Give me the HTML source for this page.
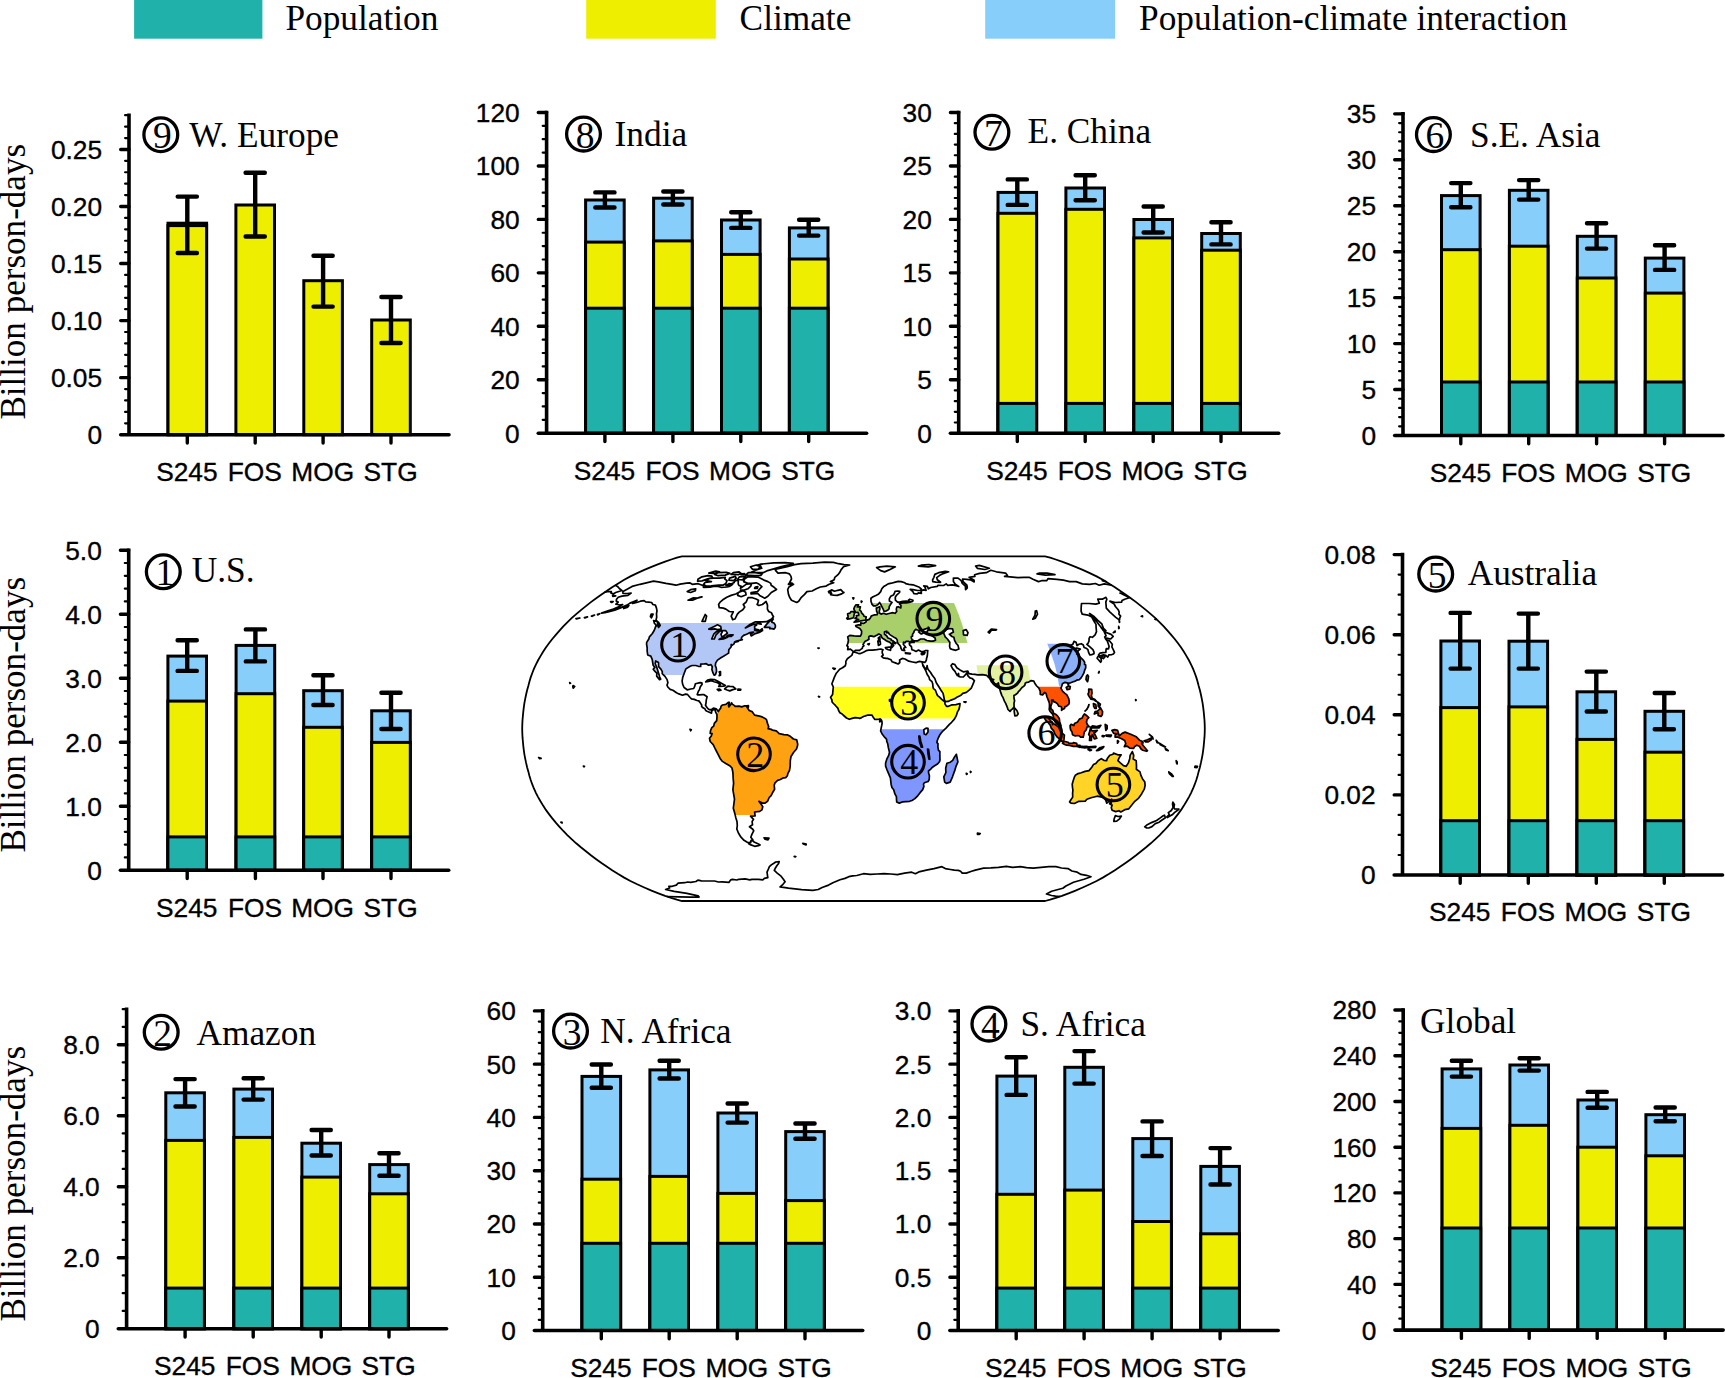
<!DOCTYPE html>
<html lang="en"><head><meta charset="utf-8"><title>Figure</title>
<style>
html,body{margin:0;padding:0;background:#fff}
svg{display:block}
.tk{font-family:"Liberation Sans", Arial, Helvetica, sans-serif;font-size:26.3px;fill:#000;stroke:#000;stroke-width:0.35px}
.tt{font-family:"Liberation Serif", "Times New Roman", Times, serif;font-size:35.3px;fill:#000}
.dg{font-family:"Liberation Serif", "Times New Roman", Times, serif;font-size:37.5px;fill:#000}
.md{font-family:"Liberation Serif", "Times New Roman", Times, serif;font-size:36px;fill:#000}
.lg{font-family:"Liberation Serif", "Times New Roman", Times, serif;font-size:35.3px;fill:#000}
.yl{font-family:"Liberation Serif", "Times New Roman", Times, serif;font-size:35.1px;fill:#000}
</style></head><body>
<svg width="1725" height="1378" viewBox="0 0 1725 1378">
<rect width="1725" height="1378" fill="#fff"/>
<rect x="134.1" y="0" width="128.3" height="38.7" fill="#20B2AA"/>
<rect x="586.2" y="0" width="129.6" height="38.7" fill="#EEEE00"/>
<rect x="985.2" y="0" width="129.9" height="38.7" fill="#87CEFA"/>
<text x="285.4" y="30.1" class="lg">Population</text>
<text x="739.6" y="30.1" class="lg">Climate</text>
<text x="1139.0" y="30.1" class="lg">Population-climate interaction</text>
<text transform="translate(25.4 419.6) rotate(-90)" class="yl">Billion person-days</text>
<text transform="translate(25.4 852.6) rotate(-90)" class="yl">Billion person-days</text>
<text transform="translate(25.4 1321.6) rotate(-90)" class="yl">Billion person-days</text>
<rect x="168" y="223.2" width="38.6" height="211.5" fill="#87CEFA" stroke="#000" stroke-width="3.0"/>
<rect x="168" y="225.6" width="38.6" height="209.1" fill="#EEEE00" stroke="#000" stroke-width="3.0"/>
<rect x="235.9" y="205" width="38.6" height="229.7" fill="#EEEE00" stroke="#000" stroke-width="3.0"/>
<rect x="303.8" y="280.7" width="38.6" height="154" fill="#EEEE00" stroke="#000" stroke-width="3.0"/>
<rect x="371.7" y="320" width="38.6" height="114.7" fill="#EEEE00" stroke="#000" stroke-width="3.0"/>
<path d="M187.3 196.6V253M177.7 196.6H196.9M177.7 253H196.9M255.2 172.8V236.5M245.6 172.8H264.8M245.6 236.5H264.8M323.1 255.8V306.6M313.5 255.8H332.7M313.5 306.6H332.7M391 297V343M381.4 297H400.6M381.4 343H400.6" fill="none" stroke="#000" stroke-width="4.4" stroke-linecap="round"/>
<path d="M129 113.42V434.7" stroke="#000" stroke-width="3.6" fill="none" stroke-linecap="butt"/>
<path d="M120.7 434.7H449" stroke="#000" stroke-width="3.6" fill="none" stroke-linecap="round"/>
<path d="M120.7 377.65H129M120.7 320.6H129M120.7 263.55H129M120.7 206.5H129M120.7 149.45H129" stroke="#000" stroke-width="3.4" fill="none" stroke-linecap="round"/>
<path d="M125.1 423.29H129M125.1 411.88H129M125.1 400.47H129M125.1 389.06H129M125.1 366.24H129M125.1 354.83H129M125.1 343.42H129M125.1 332.01H129M125.1 309.19H129M125.1 297.78H129M125.1 286.37H129M125.1 274.96H129M125.1 252.14H129M125.1 240.73H129M125.1 229.32H129M125.1 217.91H129M125.1 195.09H129M125.1 183.68H129M125.1 172.27H129M125.1 160.86H129M125.1 138.04H129M125.1 126.63H129M125.1 115.22H129" stroke="#000" stroke-width="2.2" fill="none" stroke-linecap="round"/>
<path d="M187.3 434.7V443M255.2 434.7V443M323.1 434.7V443M391 434.7V443" stroke="#000" stroke-width="3.4" fill="none" stroke-linecap="round"/>
<text x="102.1" y="444.1" text-anchor="end" class="tk">0</text>
<text x="102.1" y="387.05" text-anchor="end" class="tk">0.05</text>
<text x="102.1" y="330" text-anchor="end" class="tk">0.10</text>
<text x="102.1" y="272.95" text-anchor="end" class="tk">0.15</text>
<text x="102.1" y="215.9" text-anchor="end" class="tk">0.20</text>
<text x="102.1" y="158.85" text-anchor="end" class="tk">0.25</text>
<text x="186.9" y="481.1" text-anchor="middle" class="tk">S245</text>
<text x="254.8" y="481.1" text-anchor="middle" class="tk">FOS</text>
<text x="322.7" y="481.1" text-anchor="middle" class="tk">MOG</text>
<text x="390.6" y="481.1" text-anchor="middle" class="tk">STG</text>
<circle cx="160.8" cy="134.7" r="16.9" fill="none" stroke="#000" stroke-width="3.3"/>
<text x="162.3" y="148.1" text-anchor="middle" class="dg">9</text>
<text x="189.3" y="147.1" class="tt">W. Europe</text>
<rect x="585.6" y="200" width="38.6" height="233.2" fill="#87CEFA" stroke="#000" stroke-width="3.0"/>
<rect x="585.6" y="242.1" width="38.6" height="191.1" fill="#EEEE00" stroke="#000" stroke-width="3.0"/>
<rect x="585.6" y="308.2" width="38.6" height="125" fill="#20B2AA" stroke="#000" stroke-width="3.0"/>
<rect x="653.6" y="198.2" width="38.6" height="235" fill="#87CEFA" stroke="#000" stroke-width="3.0"/>
<rect x="653.6" y="240.9" width="38.6" height="192.3" fill="#EEEE00" stroke="#000" stroke-width="3.0"/>
<rect x="653.6" y="308.2" width="38.6" height="125" fill="#20B2AA" stroke="#000" stroke-width="3.0"/>
<rect x="721.5" y="220" width="38.6" height="213.2" fill="#87CEFA" stroke="#000" stroke-width="3.0"/>
<rect x="721.5" y="254.4" width="38.6" height="178.8" fill="#EEEE00" stroke="#000" stroke-width="3.0"/>
<rect x="721.5" y="308.2" width="38.6" height="125" fill="#20B2AA" stroke="#000" stroke-width="3.0"/>
<rect x="789.4" y="227.9" width="38.6" height="205.3" fill="#87CEFA" stroke="#000" stroke-width="3.0"/>
<rect x="789.4" y="259" width="38.6" height="174.2" fill="#EEEE00" stroke="#000" stroke-width="3.0"/>
<rect x="789.4" y="308.2" width="38.6" height="125" fill="#20B2AA" stroke="#000" stroke-width="3.0"/>
<path d="M604.9 192.4V207.5M595.3 192.4H614.5M595.3 207.5H614.5M672.9 191.5V204.5M663.3 191.5H682.5M663.3 204.5H682.5M740.8 212.3V227.9M731.2 212.3H750.4M731.2 227.9H750.4M808.7 219.8V235.6M799.1 219.8H818.3M799.1 235.6H818.3" fill="none" stroke="#000" stroke-width="4.4" stroke-linecap="round"/>
<path d="M546.6 110.7V433.2" stroke="#000" stroke-width="3.6" fill="none" stroke-linecap="butt"/>
<path d="M538.3 433.2H866.6" stroke="#000" stroke-width="3.6" fill="none" stroke-linecap="round"/>
<path d="M538.3 379.75H546.6M538.3 326.3H546.6M538.3 272.85H546.6M538.3 219.4H546.6M538.3 165.95H546.6M538.3 112.5H546.6" stroke="#000" stroke-width="3.4" fill="none" stroke-linecap="round"/>
<path d="M542.7 419.84H546.6M542.7 406.47H546.6M542.7 393.11H546.6M542.7 366.39H546.6M542.7 353.02H546.6M542.7 339.66H546.6M542.7 312.94H546.6M542.7 299.57H546.6M542.7 286.21H546.6M542.7 259.49H546.6M542.7 246.12H546.6M542.7 232.76H546.6M542.7 206.04H546.6M542.7 192.67H546.6M542.7 179.31H546.6M542.7 152.59H546.6M542.7 139.22H546.6M542.7 125.86H546.6" stroke="#000" stroke-width="2.2" fill="none" stroke-linecap="round"/>
<path d="M604.9 433.2V441.5M672.9 433.2V441.5M740.8 433.2V441.5M808.7 433.2V441.5" stroke="#000" stroke-width="3.4" fill="none" stroke-linecap="round"/>
<text x="519.7" y="442.6" text-anchor="end" class="tk">0</text>
<text x="519.7" y="389.15" text-anchor="end" class="tk">20</text>
<text x="519.7" y="335.7" text-anchor="end" class="tk">40</text>
<text x="519.7" y="282.25" text-anchor="end" class="tk">60</text>
<text x="519.7" y="228.8" text-anchor="end" class="tk">80</text>
<text x="519.7" y="175.35" text-anchor="end" class="tk">100</text>
<text x="519.7" y="121.9" text-anchor="end" class="tk">120</text>
<text x="604.5" y="479.6" text-anchor="middle" class="tk">S245</text>
<text x="672.5" y="479.6" text-anchor="middle" class="tk">FOS</text>
<text x="740.4" y="479.6" text-anchor="middle" class="tk">MOG</text>
<text x="808.3" y="479.6" text-anchor="middle" class="tk">STG</text>
<circle cx="583.5" cy="134.1" r="16.9" fill="none" stroke="#000" stroke-width="3.3"/>
<text x="585" y="147.5" text-anchor="middle" class="dg">8</text>
<text x="614.6" y="145.7" class="tt">India</text>
<rect x="998" y="192.4" width="38.6" height="240.8" fill="#87CEFA" stroke="#000" stroke-width="3.0"/>
<rect x="998" y="213.3" width="38.6" height="219.9" fill="#EEEE00" stroke="#000" stroke-width="3.0"/>
<rect x="998" y="403.4" width="38.6" height="29.8" fill="#20B2AA" stroke="#000" stroke-width="3.0"/>
<rect x="1065.9" y="188" width="38.6" height="245.2" fill="#87CEFA" stroke="#000" stroke-width="3.0"/>
<rect x="1065.9" y="209.3" width="38.6" height="223.9" fill="#EEEE00" stroke="#000" stroke-width="3.0"/>
<rect x="1065.9" y="403.4" width="38.6" height="29.8" fill="#20B2AA" stroke="#000" stroke-width="3.0"/>
<rect x="1133.9" y="219.5" width="38.6" height="213.7" fill="#87CEFA" stroke="#000" stroke-width="3.0"/>
<rect x="1133.9" y="237.9" width="38.6" height="195.3" fill="#EEEE00" stroke="#000" stroke-width="3.0"/>
<rect x="1133.9" y="403.4" width="38.6" height="29.8" fill="#20B2AA" stroke="#000" stroke-width="3.0"/>
<rect x="1201.7" y="233.5" width="38.6" height="199.7" fill="#87CEFA" stroke="#000" stroke-width="3.0"/>
<rect x="1201.7" y="250.2" width="38.6" height="183" fill="#EEEE00" stroke="#000" stroke-width="3.0"/>
<rect x="1201.7" y="403.4" width="38.6" height="29.8" fill="#20B2AA" stroke="#000" stroke-width="3.0"/>
<path d="M1017.3 179.4V204.9M1007.7 179.4H1026.9M1007.7 204.9H1026.9M1085.2 175.2V200.3M1075.6 175.2H1094.8M1075.6 200.3H1094.8M1153.2 206.5V232.5M1143.6 206.5H1162.8M1143.6 232.5H1162.8M1221 222.3V244.4M1211.4 222.3H1230.6M1211.4 244.4H1230.6" fill="none" stroke="#000" stroke-width="4.4" stroke-linecap="round"/>
<path d="M958.7 110.7V433.2" stroke="#000" stroke-width="3.6" fill="none" stroke-linecap="butt"/>
<path d="M950.4 433.2H1278.7" stroke="#000" stroke-width="3.6" fill="none" stroke-linecap="round"/>
<path d="M950.4 379.75H958.7M950.4 326.3H958.7M950.4 272.85H958.7M950.4 219.4H958.7M950.4 165.95H958.7M950.4 112.5H958.7" stroke="#000" stroke-width="3.4" fill="none" stroke-linecap="round"/>
<path d="M954.8 422.51H958.7M954.8 411.82H958.7M954.8 401.13H958.7M954.8 390.44H958.7M954.8 369.06H958.7M954.8 358.37H958.7M954.8 347.68H958.7M954.8 336.99H958.7M954.8 315.61H958.7M954.8 304.92H958.7M954.8 294.23H958.7M954.8 283.54H958.7M954.8 262.16H958.7M954.8 251.47H958.7M954.8 240.78H958.7M954.8 230.09H958.7M954.8 208.71H958.7M954.8 198.02H958.7M954.8 187.33H958.7M954.8 176.64H958.7M954.8 155.26H958.7M954.8 144.57H958.7M954.8 133.88H958.7M954.8 123.19H958.7" stroke="#000" stroke-width="2.2" fill="none" stroke-linecap="round"/>
<path d="M1017.3 433.2V441.5M1085.2 433.2V441.5M1153.2 433.2V441.5M1221 433.2V441.5" stroke="#000" stroke-width="3.4" fill="none" stroke-linecap="round"/>
<text x="931.8" y="442.6" text-anchor="end" class="tk">0</text>
<text x="931.8" y="389.15" text-anchor="end" class="tk">5</text>
<text x="931.8" y="335.7" text-anchor="end" class="tk">10</text>
<text x="931.8" y="282.25" text-anchor="end" class="tk">15</text>
<text x="931.8" y="228.8" text-anchor="end" class="tk">20</text>
<text x="931.8" y="175.35" text-anchor="end" class="tk">25</text>
<text x="931.8" y="121.9" text-anchor="end" class="tk">30</text>
<text x="1016.9" y="479.6" text-anchor="middle" class="tk">S245</text>
<text x="1084.8" y="479.6" text-anchor="middle" class="tk">FOS</text>
<text x="1152.8" y="479.6" text-anchor="middle" class="tk">MOG</text>
<text x="1220.6" y="479.6" text-anchor="middle" class="tk">STG</text>
<circle cx="991.9" cy="132.3" r="16.9" fill="none" stroke="#000" stroke-width="3.3"/>
<text x="993.4" y="145.7" text-anchor="middle" class="dg">7</text>
<text x="1027.6" y="142.9" class="tt">E. China</text>
<rect x="1441.5" y="195.6" width="38.6" height="239.9" fill="#87CEFA" stroke="#000" stroke-width="3.0"/>
<rect x="1441.5" y="249.7" width="38.6" height="185.8" fill="#EEEE00" stroke="#000" stroke-width="3.0"/>
<rect x="1441.5" y="382" width="38.6" height="53.5" fill="#20B2AA" stroke="#000" stroke-width="3.0"/>
<rect x="1509.4" y="190.3" width="38.6" height="245.2" fill="#87CEFA" stroke="#000" stroke-width="3.0"/>
<rect x="1509.4" y="246.2" width="38.6" height="189.3" fill="#EEEE00" stroke="#000" stroke-width="3.0"/>
<rect x="1509.4" y="382" width="38.6" height="53.5" fill="#20B2AA" stroke="#000" stroke-width="3.0"/>
<rect x="1577.3" y="236.3" width="38.6" height="199.2" fill="#87CEFA" stroke="#000" stroke-width="3.0"/>
<rect x="1577.3" y="278" width="38.6" height="157.5" fill="#EEEE00" stroke="#000" stroke-width="3.0"/>
<rect x="1577.3" y="382" width="38.6" height="53.5" fill="#20B2AA" stroke="#000" stroke-width="3.0"/>
<rect x="1645.3" y="258.1" width="38.6" height="177.4" fill="#87CEFA" stroke="#000" stroke-width="3.0"/>
<rect x="1645.3" y="293.1" width="38.6" height="142.4" fill="#EEEE00" stroke="#000" stroke-width="3.0"/>
<rect x="1645.3" y="382" width="38.6" height="53.5" fill="#20B2AA" stroke="#000" stroke-width="3.0"/>
<path d="M1460.8 183.1V207.2M1451.2 183.1H1470.4M1451.2 207.2H1470.4M1528.7 180.1V199.6M1519.1 180.1H1538.3M1519.1 199.6H1538.3M1596.6 223.3V248.6M1587 223.3H1606.2M1587 248.6H1606.2M1664.6 245.3V269.9M1655 245.3H1674.2M1655 269.9H1674.2" fill="none" stroke="#000" stroke-width="4.4" stroke-linecap="round"/>
<path d="M1403 112.05V435.5" stroke="#000" stroke-width="3.6" fill="none" stroke-linecap="butt"/>
<path d="M1394.7 435.5H1723" stroke="#000" stroke-width="3.6" fill="none" stroke-linecap="round"/>
<path d="M1394.7 389.55H1403M1394.7 343.6H1403M1394.7 297.65H1403M1394.7 251.7H1403M1394.7 205.75H1403M1394.7 159.8H1403M1394.7 113.85H1403" stroke="#000" stroke-width="3.4" fill="none" stroke-linecap="round"/>
<path d="M1399.1 426.31H1403M1399.1 417.12H1403M1399.1 407.93H1403M1399.1 398.74H1403M1399.1 380.36H1403M1399.1 371.17H1403M1399.1 361.98H1403M1399.1 352.79H1403M1399.1 334.41H1403M1399.1 325.22H1403M1399.1 316.03H1403M1399.1 306.84H1403M1399.1 288.46H1403M1399.1 279.27H1403M1399.1 270.08H1403M1399.1 260.89H1403M1399.1 242.51H1403M1399.1 233.32H1403M1399.1 224.13H1403M1399.1 214.94H1403M1399.1 196.56H1403M1399.1 187.37H1403M1399.1 178.18H1403M1399.1 168.99H1403M1399.1 150.61H1403M1399.1 141.42H1403M1399.1 132.23H1403M1399.1 123.04H1403" stroke="#000" stroke-width="2.2" fill="none" stroke-linecap="round"/>
<path d="M1460.8 435.5V443.8M1528.7 435.5V443.8M1596.6 435.5V443.8M1664.6 435.5V443.8" stroke="#000" stroke-width="3.4" fill="none" stroke-linecap="round"/>
<text x="1376.1" y="444.9" text-anchor="end" class="tk">0</text>
<text x="1376.1" y="398.95" text-anchor="end" class="tk">5</text>
<text x="1376.1" y="353" text-anchor="end" class="tk">10</text>
<text x="1376.1" y="307.05" text-anchor="end" class="tk">15</text>
<text x="1376.1" y="261.1" text-anchor="end" class="tk">20</text>
<text x="1376.1" y="215.15" text-anchor="end" class="tk">25</text>
<text x="1376.1" y="169.2" text-anchor="end" class="tk">30</text>
<text x="1376.1" y="123.25" text-anchor="end" class="tk">35</text>
<text x="1460.4" y="481.9" text-anchor="middle" class="tk">S245</text>
<text x="1528.3" y="481.9" text-anchor="middle" class="tk">FOS</text>
<text x="1596.2" y="481.9" text-anchor="middle" class="tk">MOG</text>
<text x="1664.2" y="481.9" text-anchor="middle" class="tk">STG</text>
<circle cx="1433.4" cy="134.6" r="16.9" fill="none" stroke="#000" stroke-width="3.3"/>
<text x="1434.9" y="148" text-anchor="middle" class="dg">6</text>
<text x="1470.1" y="147.3" class="tt">S.E. Asia</text>
<rect x="167.9" y="656.1" width="38.6" height="214.1" fill="#87CEFA" stroke="#000" stroke-width="3.0"/>
<rect x="167.9" y="701.1" width="38.6" height="169.1" fill="#EEEE00" stroke="#000" stroke-width="3.0"/>
<rect x="167.9" y="836.9" width="38.6" height="33.3" fill="#20B2AA" stroke="#000" stroke-width="3.0"/>
<rect x="236.1" y="645.4" width="38.6" height="224.8" fill="#87CEFA" stroke="#000" stroke-width="3.0"/>
<rect x="236.1" y="693.7" width="38.6" height="176.5" fill="#EEEE00" stroke="#000" stroke-width="3.0"/>
<rect x="236.1" y="836.9" width="38.6" height="33.3" fill="#20B2AA" stroke="#000" stroke-width="3.0"/>
<rect x="303.7" y="690.7" width="38.6" height="179.5" fill="#87CEFA" stroke="#000" stroke-width="3.0"/>
<rect x="303.7" y="727.3" width="38.6" height="142.9" fill="#EEEE00" stroke="#000" stroke-width="3.0"/>
<rect x="303.7" y="836.9" width="38.6" height="33.3" fill="#20B2AA" stroke="#000" stroke-width="3.0"/>
<rect x="371.7" y="710.8" width="38.6" height="159.4" fill="#87CEFA" stroke="#000" stroke-width="3.0"/>
<rect x="371.7" y="742.4" width="38.6" height="127.8" fill="#EEEE00" stroke="#000" stroke-width="3.0"/>
<rect x="371.7" y="836.9" width="38.6" height="33.3" fill="#20B2AA" stroke="#000" stroke-width="3.0"/>
<path d="M187.2 640.3V670.9M177.6 640.3H196.8M177.6 670.9H196.8M255.4 629.4V661.4M245.8 629.4H265M245.8 661.4H265M323 675.3V705M313.4 675.3H332.6M313.4 705H332.6M391 692.7V729M381.4 692.7H400.6M381.4 729H400.6" fill="none" stroke="#000" stroke-width="4.4" stroke-linecap="round"/>
<path d="M128.7 548.4V870.2" stroke="#000" stroke-width="3.6" fill="none" stroke-linecap="butt"/>
<path d="M120.4 870.2H448.7" stroke="#000" stroke-width="3.6" fill="none" stroke-linecap="round"/>
<path d="M120.4 806.2H128.7M120.4 742.2H128.7M120.4 678.2H128.7M120.4 614.2H128.7M120.4 550.2H128.7" stroke="#000" stroke-width="3.4" fill="none" stroke-linecap="round"/>
<path d="M124.8 857.4H128.7M124.8 844.6H128.7M124.8 831.8H128.7M124.8 819H128.7M124.8 793.4H128.7M124.8 780.6H128.7M124.8 767.8H128.7M124.8 755H128.7M124.8 729.4H128.7M124.8 716.6H128.7M124.8 703.8H128.7M124.8 691H128.7M124.8 665.4H128.7M124.8 652.6H128.7M124.8 639.8H128.7M124.8 627H128.7M124.8 601.4H128.7M124.8 588.6H128.7M124.8 575.8H128.7M124.8 563H128.7" stroke="#000" stroke-width="2.2" fill="none" stroke-linecap="round"/>
<path d="M187.2 870.2V878.5M255.4 870.2V878.5M323 870.2V878.5M391 870.2V878.5" stroke="#000" stroke-width="3.4" fill="none" stroke-linecap="round"/>
<text x="101.8" y="879.6" text-anchor="end" class="tk">0</text>
<text x="101.8" y="815.6" text-anchor="end" class="tk">1.0</text>
<text x="101.8" y="751.6" text-anchor="end" class="tk">2.0</text>
<text x="101.8" y="687.6" text-anchor="end" class="tk">3.0</text>
<text x="101.8" y="623.6" text-anchor="end" class="tk">4.0</text>
<text x="101.8" y="559.6" text-anchor="end" class="tk">5.0</text>
<text x="186.8" y="916.6" text-anchor="middle" class="tk">S245</text>
<text x="255" y="916.6" text-anchor="middle" class="tk">FOS</text>
<text x="322.6" y="916.6" text-anchor="middle" class="tk">MOG</text>
<text x="390.6" y="916.6" text-anchor="middle" class="tk">STG</text>
<circle cx="163.3" cy="571.8" r="16.9" fill="none" stroke="#000" stroke-width="3.3"/>
<text x="164.8" y="585.2" text-anchor="middle" class="dg">1</text>
<text x="191.8" y="581.5" class="tt">U.S.</text>
<rect x="1440.9" y="641" width="38.6" height="234" fill="#87CEFA" stroke="#000" stroke-width="3.0"/>
<rect x="1440.9" y="707.6" width="38.6" height="167.4" fill="#EEEE00" stroke="#000" stroke-width="3.0"/>
<rect x="1440.9" y="820.7" width="38.6" height="54.3" fill="#20B2AA" stroke="#000" stroke-width="3.0"/>
<rect x="1509" y="641.2" width="38.6" height="233.8" fill="#87CEFA" stroke="#000" stroke-width="3.0"/>
<rect x="1509" y="706.9" width="38.6" height="168.1" fill="#EEEE00" stroke="#000" stroke-width="3.0"/>
<rect x="1509" y="820.7" width="38.6" height="54.3" fill="#20B2AA" stroke="#000" stroke-width="3.0"/>
<rect x="1577" y="691.8" width="38.6" height="183.2" fill="#87CEFA" stroke="#000" stroke-width="3.0"/>
<rect x="1577" y="739.4" width="38.6" height="135.6" fill="#EEEE00" stroke="#000" stroke-width="3.0"/>
<rect x="1577" y="820.7" width="38.6" height="54.3" fill="#20B2AA" stroke="#000" stroke-width="3.0"/>
<rect x="1645" y="711.3" width="38.6" height="163.7" fill="#87CEFA" stroke="#000" stroke-width="3.0"/>
<rect x="1645" y="752.2" width="38.6" height="122.8" fill="#EEEE00" stroke="#000" stroke-width="3.0"/>
<rect x="1645" y="820.7" width="38.6" height="54.3" fill="#20B2AA" stroke="#000" stroke-width="3.0"/>
<path d="M1460.2 612.9V668.6M1450.6 612.9H1469.8M1450.6 668.6H1469.8M1528.3 613.6V668.6M1518.7 613.6H1537.9M1518.7 668.6H1537.9M1596.3 671.6V711.5M1586.7 671.6H1605.9M1586.7 711.5H1605.9M1664.3 693V729.2M1654.7 693H1673.9M1654.7 729.2H1673.9" fill="none" stroke="#000" stroke-width="4.4" stroke-linecap="round"/>
<path d="M1402.5 552.8V875" stroke="#000" stroke-width="3.6" fill="none" stroke-linecap="butt"/>
<path d="M1394.2 875H1722.5" stroke="#000" stroke-width="3.6" fill="none" stroke-linecap="round"/>
<path d="M1394.2 794.9H1402.5M1394.2 714.8H1402.5M1394.2 634.7H1402.5M1394.2 554.6H1402.5" stroke="#000" stroke-width="3.4" fill="none" stroke-linecap="round"/>
<path d="M1398.6 854.98H1402.5M1398.6 834.95H1402.5M1398.6 814.92H1402.5M1398.6 774.88H1402.5M1398.6 754.85H1402.5M1398.6 734.83H1402.5M1398.6 694.77H1402.5M1398.6 674.75H1402.5M1398.6 654.73H1402.5M1398.6 614.67H1402.5M1398.6 594.65H1402.5M1398.6 574.62H1402.5" stroke="#000" stroke-width="2.2" fill="none" stroke-linecap="round"/>
<path d="M1460.2 875V883.3M1528.3 875V883.3M1596.3 875V883.3M1664.3 875V883.3" stroke="#000" stroke-width="3.4" fill="none" stroke-linecap="round"/>
<text x="1375.6" y="884.4" text-anchor="end" class="tk">0</text>
<text x="1375.6" y="804.3" text-anchor="end" class="tk">0.02</text>
<text x="1375.6" y="724.2" text-anchor="end" class="tk">0.04</text>
<text x="1375.6" y="644.1" text-anchor="end" class="tk">0.06</text>
<text x="1375.6" y="564" text-anchor="end" class="tk">0.08</text>
<text x="1459.8" y="921.4" text-anchor="middle" class="tk">S245</text>
<text x="1527.9" y="921.4" text-anchor="middle" class="tk">FOS</text>
<text x="1595.9" y="921.4" text-anchor="middle" class="tk">MOG</text>
<text x="1663.9" y="921.4" text-anchor="middle" class="tk">STG</text>
<circle cx="1435.7" cy="574.1" r="16.9" fill="none" stroke="#000" stroke-width="3.3"/>
<text x="1437.2" y="587.5" text-anchor="middle" class="dg">5</text>
<text x="1467.7" y="584.6" class="tt">Australia</text>
<rect x="165.8" y="1092.8" width="38.6" height="235.9" fill="#87CEFA" stroke="#000" stroke-width="3.0"/>
<rect x="165.8" y="1140.4" width="38.6" height="188.3" fill="#EEEE00" stroke="#000" stroke-width="3.0"/>
<rect x="165.8" y="1288.1" width="38.6" height="40.6" fill="#20B2AA" stroke="#000" stroke-width="3.0"/>
<rect x="233.9" y="1089.1" width="38.6" height="239.6" fill="#87CEFA" stroke="#000" stroke-width="3.0"/>
<rect x="233.9" y="1137.4" width="38.6" height="191.3" fill="#EEEE00" stroke="#000" stroke-width="3.0"/>
<rect x="233.9" y="1288.1" width="38.6" height="40.6" fill="#20B2AA" stroke="#000" stroke-width="3.0"/>
<rect x="301.9" y="1143.2" width="38.6" height="185.5" fill="#87CEFA" stroke="#000" stroke-width="3.0"/>
<rect x="301.9" y="1177.1" width="38.6" height="151.6" fill="#EEEE00" stroke="#000" stroke-width="3.0"/>
<rect x="301.9" y="1288.1" width="38.6" height="40.6" fill="#20B2AA" stroke="#000" stroke-width="3.0"/>
<rect x="369.7" y="1164.6" width="38.6" height="164.1" fill="#87CEFA" stroke="#000" stroke-width="3.0"/>
<rect x="369.7" y="1193.8" width="38.6" height="134.9" fill="#EEEE00" stroke="#000" stroke-width="3.0"/>
<rect x="369.7" y="1288.1" width="38.6" height="40.6" fill="#20B2AA" stroke="#000" stroke-width="3.0"/>
<path d="M185.1 1079.1V1106.5M175.5 1079.1H194.7M175.5 1106.5H194.7M253.2 1078.2V1099.6M243.6 1078.2H262.8M243.6 1099.6H262.8M321.2 1130V1155.5M311.6 1130H330.8M311.6 1155.5H330.8M389 1153.2V1175.7M379.4 1153.2H398.6M379.4 1175.7H398.6" fill="none" stroke="#000" stroke-width="4.4" stroke-linecap="round"/>
<path d="M126.6 1007.4V1328.7" stroke="#000" stroke-width="3.6" fill="none" stroke-linecap="butt"/>
<path d="M118.3 1328.7H446.6" stroke="#000" stroke-width="3.6" fill="none" stroke-linecap="round"/>
<path d="M118.3 1257.7H126.6M118.3 1186.7H126.6M118.3 1115.7H126.6M118.3 1044.7H126.6" stroke="#000" stroke-width="3.4" fill="none" stroke-linecap="round"/>
<path d="M122.7 1310.95H126.6M122.7 1293.2H126.6M122.7 1275.45H126.6M122.7 1239.95H126.6M122.7 1222.2H126.6M122.7 1204.45H126.6M122.7 1168.95H126.6M122.7 1151.2H126.6M122.7 1133.45H126.6M122.7 1097.95H126.6M122.7 1080.2H126.6M122.7 1062.45H126.6M122.7 1026.95H126.6M122.7 1009.2H126.6" stroke="#000" stroke-width="2.2" fill="none" stroke-linecap="round"/>
<path d="M185.1 1328.7V1337M253.2 1328.7V1337M321.2 1328.7V1337M389 1328.7V1337" stroke="#000" stroke-width="3.4" fill="none" stroke-linecap="round"/>
<text x="99.7" y="1338.1" text-anchor="end" class="tk">0</text>
<text x="99.7" y="1267.1" text-anchor="end" class="tk">2.0</text>
<text x="99.7" y="1196.1" text-anchor="end" class="tk">4.0</text>
<text x="99.7" y="1125.1" text-anchor="end" class="tk">6.0</text>
<text x="99.7" y="1054.1" text-anchor="end" class="tk">8.0</text>
<text x="184.7" y="1375.1" text-anchor="middle" class="tk">S245</text>
<text x="252.8" y="1375.1" text-anchor="middle" class="tk">FOS</text>
<text x="320.8" y="1375.1" text-anchor="middle" class="tk">MOG</text>
<text x="388.6" y="1375.1" text-anchor="middle" class="tk">STG</text>
<circle cx="161.2" cy="1032.3" r="16.9" fill="none" stroke="#000" stroke-width="3.3"/>
<text x="162.7" y="1045.7" text-anchor="middle" class="dg">2</text>
<text x="196.5" y="1045.3" class="tt">Amazon</text>
<rect x="582" y="1076.4" width="38.6" height="254.1" fill="#87CEFA" stroke="#000" stroke-width="3.0"/>
<rect x="582" y="1179.2" width="38.6" height="151.3" fill="#EEEE00" stroke="#000" stroke-width="3.0"/>
<rect x="582" y="1243.3" width="38.6" height="87.2" fill="#20B2AA" stroke="#000" stroke-width="3.0"/>
<rect x="649.9" y="1069.9" width="38.6" height="260.6" fill="#87CEFA" stroke="#000" stroke-width="3.0"/>
<rect x="649.9" y="1176.4" width="38.6" height="154.1" fill="#EEEE00" stroke="#000" stroke-width="3.0"/>
<rect x="649.9" y="1243.3" width="38.6" height="87.2" fill="#20B2AA" stroke="#000" stroke-width="3.0"/>
<rect x="717.9" y="1113" width="38.6" height="217.5" fill="#87CEFA" stroke="#000" stroke-width="3.0"/>
<rect x="717.9" y="1193.4" width="38.6" height="137.1" fill="#EEEE00" stroke="#000" stroke-width="3.0"/>
<rect x="717.9" y="1243.3" width="38.6" height="87.2" fill="#20B2AA" stroke="#000" stroke-width="3.0"/>
<rect x="785.7" y="1131.6" width="38.6" height="198.9" fill="#87CEFA" stroke="#000" stroke-width="3.0"/>
<rect x="785.7" y="1200.6" width="38.6" height="129.9" fill="#EEEE00" stroke="#000" stroke-width="3.0"/>
<rect x="785.7" y="1243.3" width="38.6" height="87.2" fill="#20B2AA" stroke="#000" stroke-width="3.0"/>
<path d="M601.3 1064.5V1087.7M591.7 1064.5H610.9M591.7 1087.7H610.9M669.2 1060.8V1078.5M659.6 1060.8H678.8M659.6 1078.5H678.8M737.2 1103.5V1122.6M727.6 1103.5H746.8M727.6 1122.6H746.8M805 1123.5V1138.8M795.4 1123.5H814.6M795.4 1138.8H814.6" fill="none" stroke="#000" stroke-width="4.4" stroke-linecap="round"/>
<path d="M542.7 1009.08V1330.5" stroke="#000" stroke-width="3.6" fill="none" stroke-linecap="butt"/>
<path d="M534.4 1330.5H862.7" stroke="#000" stroke-width="3.6" fill="none" stroke-linecap="round"/>
<path d="M534.4 1277.23H542.7M534.4 1223.96H542.7M534.4 1170.69H542.7M534.4 1117.42H542.7M534.4 1064.15H542.7M534.4 1010.88H542.7" stroke="#000" stroke-width="3.4" fill="none" stroke-linecap="round"/>
<path d="M538.8 1319.85H542.7M538.8 1309.19H542.7M538.8 1298.54H542.7M538.8 1287.88H542.7M538.8 1266.58H542.7M538.8 1255.92H542.7M538.8 1245.27H542.7M538.8 1234.61H542.7M538.8 1213.31H542.7M538.8 1202.65H542.7M538.8 1192H542.7M538.8 1181.34H542.7M538.8 1160.04H542.7M538.8 1149.38H542.7M538.8 1138.73H542.7M538.8 1128.07H542.7M538.8 1106.77H542.7M538.8 1096.11H542.7M538.8 1085.46H542.7M538.8 1074.8H542.7M538.8 1053.5H542.7M538.8 1042.84H542.7M538.8 1032.19H542.7M538.8 1021.53H542.7" stroke="#000" stroke-width="2.2" fill="none" stroke-linecap="round"/>
<path d="M601.3 1330.5V1338.8M669.2 1330.5V1338.8M737.2 1330.5V1338.8M805 1330.5V1338.8" stroke="#000" stroke-width="3.4" fill="none" stroke-linecap="round"/>
<text x="515.8" y="1339.9" text-anchor="end" class="tk">0</text>
<text x="515.8" y="1286.63" text-anchor="end" class="tk">10</text>
<text x="515.8" y="1233.36" text-anchor="end" class="tk">20</text>
<text x="515.8" y="1180.09" text-anchor="end" class="tk">30</text>
<text x="515.8" y="1126.82" text-anchor="end" class="tk">40</text>
<text x="515.8" y="1073.55" text-anchor="end" class="tk">50</text>
<text x="515.8" y="1020.28" text-anchor="end" class="tk">60</text>
<text x="600.9" y="1376.9" text-anchor="middle" class="tk">S245</text>
<text x="668.8" y="1376.9" text-anchor="middle" class="tk">FOS</text>
<text x="736.8" y="1376.9" text-anchor="middle" class="tk">MOG</text>
<text x="804.6" y="1376.9" text-anchor="middle" class="tk">STG</text>
<circle cx="570.5" cy="1031.1" r="16.9" fill="none" stroke="#000" stroke-width="3.3"/>
<text x="572" y="1044.5" text-anchor="middle" class="dg">3</text>
<text x="600.2" y="1043.4" class="tt">N. Africa</text>
<rect x="996.9" y="1076.1" width="38.6" height="254.4" fill="#87CEFA" stroke="#000" stroke-width="3.0"/>
<rect x="996.9" y="1194.3" width="38.6" height="136.2" fill="#EEEE00" stroke="#000" stroke-width="3.0"/>
<rect x="996.9" y="1288.1" width="38.6" height="42.4" fill="#20B2AA" stroke="#000" stroke-width="3.0"/>
<rect x="1064.8" y="1067.3" width="38.6" height="263.2" fill="#87CEFA" stroke="#000" stroke-width="3.0"/>
<rect x="1064.8" y="1190.1" width="38.6" height="140.4" fill="#EEEE00" stroke="#000" stroke-width="3.0"/>
<rect x="1064.8" y="1288.1" width="38.6" height="42.4" fill="#20B2AA" stroke="#000" stroke-width="3.0"/>
<rect x="1132.8" y="1138.6" width="38.6" height="191.9" fill="#87CEFA" stroke="#000" stroke-width="3.0"/>
<rect x="1132.8" y="1221.5" width="38.6" height="109" fill="#EEEE00" stroke="#000" stroke-width="3.0"/>
<rect x="1132.8" y="1288.1" width="38.6" height="42.4" fill="#20B2AA" stroke="#000" stroke-width="3.0"/>
<rect x="1200.8" y="1166.4" width="38.6" height="164.1" fill="#87CEFA" stroke="#000" stroke-width="3.0"/>
<rect x="1200.8" y="1233.8" width="38.6" height="96.7" fill="#EEEE00" stroke="#000" stroke-width="3.0"/>
<rect x="1200.8" y="1288.1" width="38.6" height="42.4" fill="#20B2AA" stroke="#000" stroke-width="3.0"/>
<path d="M1016.2 1057.3V1094.9M1006.6 1057.3H1025.8M1006.6 1094.9H1025.8M1084.1 1051.1V1083.6M1074.5 1051.1H1093.7M1074.5 1083.6H1093.7M1152.1 1121.4V1156M1142.5 1121.4H1161.7M1142.5 1156H1161.7M1220.1 1148.1V1184.5M1210.5 1148.1H1229.7M1210.5 1184.5H1229.7" fill="none" stroke="#000" stroke-width="4.4" stroke-linecap="round"/>
<path d="M958.2 1009.08V1330.5" stroke="#000" stroke-width="3.6" fill="none" stroke-linecap="butt"/>
<path d="M949.9 1330.5H1278.2" stroke="#000" stroke-width="3.6" fill="none" stroke-linecap="round"/>
<path d="M949.9 1277.23H958.2M949.9 1223.96H958.2M949.9 1170.69H958.2M949.9 1117.42H958.2M949.9 1064.15H958.2M949.9 1010.88H958.2" stroke="#000" stroke-width="3.4" fill="none" stroke-linecap="round"/>
<path d="M954.3 1319.85H958.2M954.3 1309.19H958.2M954.3 1298.54H958.2M954.3 1287.88H958.2M954.3 1266.58H958.2M954.3 1255.92H958.2M954.3 1245.27H958.2M954.3 1234.61H958.2M954.3 1213.31H958.2M954.3 1202.65H958.2M954.3 1192H958.2M954.3 1181.34H958.2M954.3 1160.04H958.2M954.3 1149.38H958.2M954.3 1138.73H958.2M954.3 1128.07H958.2M954.3 1106.77H958.2M954.3 1096.11H958.2M954.3 1085.46H958.2M954.3 1074.8H958.2M954.3 1053.5H958.2M954.3 1042.84H958.2M954.3 1032.19H958.2M954.3 1021.53H958.2" stroke="#000" stroke-width="2.2" fill="none" stroke-linecap="round"/>
<path d="M1016.2 1330.5V1338.8M1084.1 1330.5V1338.8M1152.1 1330.5V1338.8M1220.1 1330.5V1338.8" stroke="#000" stroke-width="3.4" fill="none" stroke-linecap="round"/>
<text x="931.3" y="1339.9" text-anchor="end" class="tk">0</text>
<text x="931.3" y="1286.63" text-anchor="end" class="tk">0.5</text>
<text x="931.3" y="1233.36" text-anchor="end" class="tk">1.0</text>
<text x="931.3" y="1180.09" text-anchor="end" class="tk">1.5</text>
<text x="931.3" y="1126.82" text-anchor="end" class="tk">2.0</text>
<text x="931.3" y="1073.55" text-anchor="end" class="tk">2.5</text>
<text x="931.3" y="1020.28" text-anchor="end" class="tk">3.0</text>
<text x="1015.8" y="1376.9" text-anchor="middle" class="tk">S245</text>
<text x="1083.7" y="1376.9" text-anchor="middle" class="tk">FOS</text>
<text x="1151.7" y="1376.9" text-anchor="middle" class="tk">MOG</text>
<text x="1219.7" y="1376.9" text-anchor="middle" class="tk">STG</text>
<circle cx="988.9" cy="1024.1" r="16.9" fill="none" stroke="#000" stroke-width="3.3"/>
<text x="990.4" y="1037.5" text-anchor="middle" class="dg">4</text>
<text x="1020.4" y="1035.7" class="tt">S. Africa</text>
<rect x="1442.1" y="1068.9" width="38.6" height="261.2" fill="#87CEFA" stroke="#000" stroke-width="3.0"/>
<rect x="1442.1" y="1128.4" width="38.6" height="201.7" fill="#EEEE00" stroke="#000" stroke-width="3.0"/>
<rect x="1442.1" y="1228" width="38.6" height="102.1" fill="#20B2AA" stroke="#000" stroke-width="3.0"/>
<rect x="1509.9" y="1065" width="38.6" height="265.1" fill="#87CEFA" stroke="#000" stroke-width="3.0"/>
<rect x="1509.9" y="1125.3" width="38.6" height="204.8" fill="#EEEE00" stroke="#000" stroke-width="3.0"/>
<rect x="1509.9" y="1228" width="38.6" height="102.1" fill="#20B2AA" stroke="#000" stroke-width="3.0"/>
<rect x="1577.9" y="1100" width="38.6" height="230.1" fill="#87CEFA" stroke="#000" stroke-width="3.0"/>
<rect x="1577.9" y="1147.2" width="38.6" height="182.9" fill="#EEEE00" stroke="#000" stroke-width="3.0"/>
<rect x="1577.9" y="1228" width="38.6" height="102.1" fill="#20B2AA" stroke="#000" stroke-width="3.0"/>
<rect x="1645.9" y="1114.7" width="38.6" height="215.4" fill="#87CEFA" stroke="#000" stroke-width="3.0"/>
<rect x="1645.9" y="1155.8" width="38.6" height="174.3" fill="#EEEE00" stroke="#000" stroke-width="3.0"/>
<rect x="1645.9" y="1228" width="38.6" height="102.1" fill="#20B2AA" stroke="#000" stroke-width="3.0"/>
<path d="M1461.4 1060.8V1076.6M1451.8 1060.8H1471M1451.8 1076.6H1471M1529.2 1058.3V1070.6M1519.6 1058.3H1538.8M1519.6 1070.6H1538.8M1597.2 1091.9V1107.7M1587.6 1091.9H1606.8M1587.6 1107.7H1606.8M1665.2 1107.5V1121.2M1655.6 1107.5H1674.8M1655.6 1121.2H1674.8" fill="none" stroke="#000" stroke-width="4.4" stroke-linecap="round"/>
<path d="M1403.2 1008.19V1330.1" stroke="#000" stroke-width="3.6" fill="none" stroke-linecap="butt"/>
<path d="M1394.9 1330.1H1723.2" stroke="#000" stroke-width="3.6" fill="none" stroke-linecap="round"/>
<path d="M1394.9 1284.37H1403.2M1394.9 1238.64H1403.2M1394.9 1192.91H1403.2M1394.9 1147.18H1403.2M1394.9 1101.45H1403.2M1394.9 1055.72H1403.2M1394.9 1009.99H1403.2" stroke="#000" stroke-width="3.4" fill="none" stroke-linecap="round"/>
<path d="M1399.3 1318.67H1403.2M1399.3 1307.23H1403.2M1399.3 1295.8H1403.2M1399.3 1272.94H1403.2M1399.3 1261.5H1403.2M1399.3 1250.07H1403.2M1399.3 1227.21H1403.2M1399.3 1215.77H1403.2M1399.3 1204.34H1403.2M1399.3 1181.48H1403.2M1399.3 1170.04H1403.2M1399.3 1158.61H1403.2M1399.3 1135.75H1403.2M1399.3 1124.31H1403.2M1399.3 1112.88H1403.2M1399.3 1090.02H1403.2M1399.3 1078.59H1403.2M1399.3 1067.15H1403.2M1399.3 1044.29H1403.2M1399.3 1032.86H1403.2M1399.3 1021.42H1403.2" stroke="#000" stroke-width="2.2" fill="none" stroke-linecap="round"/>
<path d="M1461.4 1330.1V1338.4M1529.2 1330.1V1338.4M1597.2 1330.1V1338.4M1665.2 1330.1V1338.4" stroke="#000" stroke-width="3.4" fill="none" stroke-linecap="round"/>
<text x="1376.3" y="1339.5" text-anchor="end" class="tk">0</text>
<text x="1376.3" y="1293.77" text-anchor="end" class="tk">40</text>
<text x="1376.3" y="1248.04" text-anchor="end" class="tk">80</text>
<text x="1376.3" y="1202.31" text-anchor="end" class="tk">120</text>
<text x="1376.3" y="1156.58" text-anchor="end" class="tk">160</text>
<text x="1376.3" y="1110.85" text-anchor="end" class="tk">200</text>
<text x="1376.3" y="1065.12" text-anchor="end" class="tk">240</text>
<text x="1376.3" y="1019.39" text-anchor="end" class="tk">280</text>
<text x="1461" y="1376.5" text-anchor="middle" class="tk">S245</text>
<text x="1528.8" y="1376.5" text-anchor="middle" class="tk">FOS</text>
<text x="1596.8" y="1376.5" text-anchor="middle" class="tk">MOG</text>
<text x="1664.8" y="1376.5" text-anchor="middle" class="tk">STG</text>
<text x="1420.1" y="1032.5" class="tt">Global</text>
<path d="M659.7 624.4L660.2 625.4L658.5 627.5L658.7 625.8L656 625.6L654.3 630.2L652.2 633.8L649.4 636.9L648.8 639L646.7 642.4L646.6 644.3L647.2 648L647.1 650.5L647.7 655L650.8 656.1L652.2 659.3L652.7 662.5L653.1 665L654.8 667.4L653.2 669.3L655 671.4L656.8 673.2L656.7 674.9L657 674.9L658.8 674.9L659.1 674.9L658.9 674.2L657.9 671L656.9 667.8L655.2 663.5L655.7 661L658.5 662.5L658.6 666.7L660.9 669.1L662.3 671.7L662.2 673.6L663.5 674.9L664.3 674.9L666.2 674.9L668 674.9L669.9 674.9L671.7 674.9L673.6 674.9L675.4 674.9L677.2 674.9L679.1 674.9L680.9 674.9L682.8 674.9L683.6 674.9L684.2 673.2L685.9 668.9L690.1 666.3L692.2 665.5L695.8 665.5L698.4 666.3L700.7 666.5L700.7 664.2L703.5 664L706.2 663.7L708.6 665.2L711 664.6L712.3 666.7L711.9 669.5L713 672.9L714 674.9L714.1 674.9L714.6 674.9L715.5 674.6L716.5 671.4L716.3 668L715.3 665.7L715.7 662.9L717.5 660.1L720.9 657.8L723.5 656.3L726.2 654.6L728.6 653.1L728.8 649.7L731.2 646.7L731.2 644.5L731.7 645.6L734 643.9L734.6 642L735.7 641.4L739.5 640.3L742.3 639.7L741.3 639L741.6 637.3L743.6 635.4L746.6 634.2L749.6 632.7L753.6 632.1L750.5 634.2L751.2 635.9L755.3 633.6L760 632.1L762.5 630.6L762.2 628.7L759.4 631.2L757 631L754.7 630.2L754.7 628.5L754.6 626.4L756.7 625L756.8 623.9L752.4 624.6L748.4 626.4L745.4 627.9L750 624.4L752.6 623.1L751.3 623.1L749.6 623.1L748 623.1L746.3 623.1L744.7 623.1L743 623.1L741.4 623.1L739.7 623.1L738.1 623.1L736.4 623.1L734.8 623.1L733.1 623.1L731.5 623.1L729.8 623.1L728.2 623.1L726.5 623.1L724.9 623.1L723.2 623.1L721.6 623.1L719.9 623.1L718.3 623.1L716.6 623.1L715 623.1L713.3 623.1L711.7 623.1L710 623.1L708.4 623.1L706.7 623.1L705.1 623.1L703.4 623.1L701.8 623.1L700.1 623.1L698.5 623.1L696.8 623.1L695.2 623.1L693.5 623.1L691.9 623.1L690.2 623.1L688.6 623.1L686.9 623.1L685.3 623.1L683.6 623.1L682 623.1L680.3 623.1L678.7 623.1L677 623.1L675.4 623.1L673.7 623.1L672.1 623.1L670.4 623.1L668.8 623.1L667.1 623.1L665.5 623.1L663.8 623.1L662.2 623.1L660.5 623.1L659 623.1ZM714.8 628.9L711.2 629.4L708.8 629.1L714.2 626.4L717.5 624.8L720.8 626.6L721.1 629.1L717.8 629.6ZM721 634.2L722.2 632.1L720.8 630.6L725.8 630.6L727.4 633.1L723.2 636.5L721.8 636.5ZM716 634.8L714.3 639L711.7 639L713.9 633.8L717.2 631L719.7 631.2ZM731 634.8L733.1 634.8L731.3 636.3L726.7 636.3L727.7 635.4ZM727.3 637.1L727.5 637.3L723.5 639L719.1 639.5L720.2 638.6L723.1 637.8ZM657.7 623.1L657.2 623.1L655.6 623.1L654.3 623.1L654.5 623.5L656.5 625.4L658.2 625.4ZM734.9 642.2L738.3 641.4L738.4 640.9L735 641.8ZM720.5 671.7L719.2 671.9L720 673.6L719.5 674.9L719.7 674.9L720.5 674.9ZM758.5 623.7L761.2 624.2L761 623.7L758.7 623.1L757.9 623.1L757.7 623.1ZM767 623.9L764.3 627.3L769.9 627.3L769.8 628.7L772 628.7L773.9 629.1L775.3 627.5L775.4 625.4L774.3 623.3L773.9 623.1L772.7 623.1L771.1 623.1L769.4 623.1L767.8 623.1ZM755.6 630L757.9 630.6L758.7 629.8L755.4 629.1Z" fill="#B3C7F7" stroke="none" fill-rule="evenodd"/>
<path d="M717 716.9L716.7 720.6L714.3 723.4L713.7 726.1L711.8 727.6L710.5 730.8L710.2 733.4L712.1 733.6L711.3 736L709.5 738.3L710.2 741.5L713.2 744.7L715.3 749L718.1 754.3L720.1 758.4L722.4 761.4L725.8 763.5L729.7 765.7L732 768L732.9 772.5L733.2 778.9L733.6 783.2L732.9 789.6L733.6 793.9L734.5 799.2L733.8 804.5L733.3 808.2L734.7 813.1L735.2 814.9L736.2 814.9L737.9 814.9L739.7 814.9L741.4 814.9L743.2 814.9L744.9 814.9L746.6 814.9L748.4 814.9L750.1 814.9L751.9 814.9L753.6 814.9L755 814.9L754.6 812L759.7 811.4L761.9 809.9L762.8 806.7L761.5 804.8L758.9 801.3L762.4 803.1L765.1 803.1L767.5 801.3L769.2 797.5L771.1 795.6L772.5 792.8L774.6 789.2L774.2 785.3L775 782.8L777.6 780.4L780.3 779.5L783.5 777.8L785.7 777.6L787.4 775.7L787.8 773.6L789.5 770.4L790.2 766.1L790.3 760.7L791 756.5L793.7 752.2L796.5 749L797.5 745.8L797.7 744.1L796.7 739.8L793.4 739L790.6 736.6L787.7 734.9L783.9 734.7L779.2 733.6L776.3 730.8L772.5 730.2L771.2 729.3L768.1 728.7L768.7 726.6L767.8 724.4L766.5 719.7L765 718.4L762.2 716.9L759.4 716.1L754.7 715.2L752 711.6L749.2 710.5L747.4 707.8L747.1 707.1L748.4 707.1L748.4 705.6L746.9 705.8L746.9 706.6L746.6 705.8L744.7 705.8L741.8 706.9L739 706.1L735.2 706.3L734.5 705.6L732.3 704.1L731.6 702.8L731 704.1L728.8 706.9L728.5 705.2L729.4 702.4L728.3 702.4L725.9 704.3L722.5 705L721.1 706.1L720.6 708.4L719.4 709.7L718.3 711.6L718 711.1L718 711.6L717.2 712.7L717.2 714.8L716.9 714.8Z" fill="#FFA211" stroke="none" fill-rule="evenodd"/>
<path d="M833.3 687L833 690.2L832.6 694.5L830.6 697.3L831.9 699.9L832.1 702L833.4 703.5L835.2 705.2L836.1 706.3L838 708.4L838.6 710.5L839.9 712.7L841.7 713.7L843.1 715L846.5 718L847.3 718.4L848.4 718.4L850.2 718.4L852.1 718.4L852.3 718.4L855 717.6L857.8 717.8L859.6 718.4L859.7 718.4L859.8 718.4L861.6 717.6L863.5 716.5L865.4 715.9L867.3 715.2L869.9 715L872 715.2L873 716.9L874 718.4L874.9 718.4L876.8 718.4L878.6 718.4L880.5 718.4L882.4 718.4L884.3 718.4L886.2 718.4L888.1 718.4L890 718.4L891.9 718.4L893.8 718.4L895.7 718.4L897.6 718.4L899.5 718.4L901.4 718.4L903.3 718.4L905.2 718.4L907.1 718.4L908.9 718.4L910.8 718.4L912.7 718.4L914.6 718.4L916.5 718.4L918.4 718.4L920.3 718.4L922.2 718.4L924.1 718.4L926 718.4L927.9 718.4L929.8 718.4L931.7 718.4L933.6 718.4L935.5 718.4L937.4 718.4L939.2 718.4L941.1 718.4L943 718.4L944.9 718.4L946.8 718.4L948.7 718.4L950.6 718.4L952.5 718.4L954.4 718.4L954.8 718.4L956.2 715.9L957.6 711.6L958.9 709.5L959.7 706.3L960 703.5L955.9 704.6L952.1 704.8L948.4 706.3L946.5 706.3L944.9 703.9L945 702L943.5 700.9L941.5 699.2L939.5 697.1L937.6 695.6L937 694.5L935.4 690.2L933.5 688.7L933 687L933 686.7L932.4 686.7L930.6 686.7L928.7 686.7L926.9 686.7L925 686.7L923.1 686.7L921.3 686.7L919.4 686.7L917.5 686.7L915.7 686.7L913.8 686.7L911.9 686.7L910.1 686.7L908.2 686.7L906.4 686.7L904.5 686.7L902.6 686.7L900.8 686.7L898.9 686.7L897 686.7L895.2 686.7L893.3 686.7L891.5 686.7L889.6 686.7L887.7 686.7L885.9 686.7L884 686.7L882.1 686.7L880.3 686.7L878.4 686.7L876.5 686.7L874.7 686.7L872.8 686.7L871 686.7L869.1 686.7L867.2 686.7L865.4 686.7L863.5 686.7L861.6 686.7L859.8 686.7L857.9 686.7L856 686.7L854.2 686.7L852.3 686.7L850.5 686.7L848.6 686.7L846.7 686.7L844.9 686.7L843 686.7L841.1 686.7L839.3 686.7L837.4 686.7L835.5 686.7L833.7 686.7L833.2 686.7ZM890.8 701.4L889.5 701.1L889.5 699.6L891 699.9ZM939 687L941 690.2L943.1 693.4L943.8 696.7L944.4 699.9L945.4 701.6L948.2 701.4L951 700.1L954.7 698.8L957.4 696.9L961 695.2L962.8 693.4L966.4 692.4L969.1 690.2L971.3 688.1L971.9 686.7L971.6 686.7L969.7 686.7L967.9 686.7L966 686.7L964.1 686.7L962.3 686.7L960.4 686.7L958.5 686.7L956.7 686.7L954.8 686.7L952.9 686.7L951.1 686.7L949.2 686.7L947.4 686.7L945.5 686.7L943.6 686.7L941.8 686.7L939.9 686.7L938.8 686.7ZM964.2 702.2L965.6 702.4L966.1 701.8L964 701.8Z" fill="#FFFF1A" stroke="none" fill-rule="evenodd"/>
<path d="M880.6 730.8L882.1 734L884.3 736.8L885.8 738.3L886.6 739.4L886.8 741.5L887.7 743.7L888.4 747.9L889.5 752.2L888.7 755.4L887 758.6L885.6 762.9L885.6 766.1L886.8 769.3L888.6 773.6L890.4 777.8L891.1 784.2L891.9 787.5L893.7 789.8L894.9 793.9L896.4 796.6L896.5 799.2L896.7 802L899.3 803.1L903 801.8L905.7 801.6L909.6 801.3L912 800.5L914.9 798.6L917.9 795.6L920.3 792.4L922.7 789.6L923.9 786.4L923.5 784.2L924.3 782.8L928.1 781.5L929.2 779.5L929.4 775.7L928.6 773.1L928.5 771L930.7 769.1L932.5 767.2L934.6 765.7L937.5 764L939.5 761.8L940 759.7L939.8 755.4L939.9 751.6L938.4 750.1L937.9 746.9L938 743.7L936.9 742.6L937.3 740.5L938.5 737.5L939.7 735.1L941.2 733L943.1 730.8L944.7 729.3L943.1 729.3L941.2 729.3L939.3 729.3L937.4 729.3L935.6 729.3L933.7 729.3L931.8 729.3L929.9 729.3L928 729.3L928 729.3L928 731.9L926 734.7L924.2 734L923.8 729.8L924.4 729.3L924.2 729.3L922.3 729.3L920.4 729.3L918.5 729.3L916.6 729.3L914.7 729.3L912.8 729.3L910.9 729.3L909 729.3L907.1 729.3L905.2 729.3L903.3 729.3L901.4 729.3L899.5 729.3L897.6 729.3L895.7 729.3L893.8 729.3L891.9 729.3L890 729.3L888.1 729.3L886.3 729.3L884.4 729.3L882.5 729.3L880.9 729.3ZM922.5 747.1L921.3 747.1L919.5 741.9L918.8 736L919.8 736.2L920.8 741.5ZM929.8 759.3L928.9 759L928.1 754.3L927.5 749.2L928.6 749.4L929.2 754.3ZM946.4 783.4L950.2 782.1L952.5 776.8L954.8 770.4L956.1 766.1L957.9 761.8L956.4 754.3L954.2 757.5L952.7 760.3L950.3 762.2L946.9 763.3L945.7 768.2L945.9 772.5L943.8 776.8L944.7 782.1Z" fill="#8096FF" stroke="none" fill-rule="evenodd"/>
<path d="M1089.9 750.7L1091.5 750.1L1090 750.1L1088.9 750.1ZM1142.8 750.3L1146.5 751.3L1147.5 750.7L1146.9 750.1L1146.6 750.1L1144.7 750.1L1142.8 750.1L1142.5 750.1ZM1096.5 750.7L1098.4 750.5L1099.2 750.1L1097.5 750.1L1097.2 750.1ZM1121.2 754.8L1117.8 754.8L1113.5 753.1L1113.1 754.3L1109.8 755.2L1107.3 758.6L1106.6 760.7L1103.8 760.3L1101.3 758.6L1098.1 760.7L1095.8 763.5L1093.4 764.6L1091.8 767.2L1089 770.6L1085.1 771.4L1081.2 772.7L1078.2 773.6L1075.3 775.3L1074.5 776.8L1073.1 781L1072.2 784.2L1072.5 787.5L1072.9 790.2L1072.6 793.4L1072.7 797.1L1070.6 800.3L1069.6 802L1071 803.1L1074.4 803.5L1078.9 801.3L1085.2 801.1L1086.9 799.2L1091.1 797.7L1097.1 796.2L1102.2 797.1L1105.1 798.8L1106 800.9L1106.8 803.1L1111.7 799.2L1109.6 803.9L1111.4 802.8L1110.6 804.5L1112.1 805L1111.3 807.7L1112.1 810.3L1115.7 811.6L1118.9 810.7L1120.8 812L1124.8 809.7L1128.8 808.8L1131.6 805.2L1134.8 801.3L1138.7 798.1L1141.6 793.9L1144.4 788.9L1145.1 785.3L1144.8 782.1L1142.6 778.9L1141 775.7L1140 771.9L1136.4 769.3L1136.5 766.1L1136.2 760.7L1133.2 759L1133.7 755.4L1132.3 751.6L1130.1 755.4L1129.8 758.6L1128.4 762.9L1126.2 766.3L1123.5 765.7L1120.3 762.9L1117.9 760.7L1119.3 757.5Z" fill="#FFD426" stroke="none" fill-rule="evenodd"/>
<path d="M1038.9 688.1L1040.2 691.3L1040.3 694.5L1042.6 694.9L1044.7 692.4L1046.1 693.4L1046.9 696.7L1048.2 699.9L1049.4 703.1L1049.5 706.3L1049.2 709.5L1049.9 711.2L1051.9 713.3L1052.9 714.8L1053.4 716.9L1054.1 719.7L1055.5 722.5L1057.8 724.2L1059.7 725.9L1061 725.7L1060.2 723.4L1059.6 721.2L1059.3 718.4L1057.5 715.9L1055.5 714.2L1053.6 713.3L1052.8 710.5L1051 709L1050.8 706.3L1051.9 703.1L1051.6 700.1L1053.3 700.1L1053.6 701.6L1055.6 702.4L1057.4 703.7L1058.7 706.1L1060.7 706.5L1061.7 707.3L1061.5 710.3L1062.4 709.5L1064.6 708.4L1065 706.5L1066.3 706.3L1068.9 704.1L1069.3 702L1068.8 698.8L1066.9 694.9L1064.9 693.4L1062.7 691.3L1060.9 688.1L1061.5 686.7L1061 686.7L1059.2 686.7L1057.3 686.7L1055.4 686.7L1053.6 686.7L1051.7 686.7L1049.8 686.7L1048 686.7L1046.1 686.7L1044.3 686.7L1042.4 686.7L1040.5 686.7L1038.7 686.7L1037.4 686.7ZM1070.3 686.7L1068.5 686.7L1067.3 686.7L1066.2 687.5L1067.1 689.6L1069.8 689.2ZM1094.7 699.2L1092.2 698.4L1091.4 695.6L1092 693.4L1091.7 689.4L1088.7 689.2L1088.8 692.4L1088 693.9L1088.6 695.6L1090 697.7L1090.8 699.2L1093.9 699.6L1095.6 701.1L1097 701.8ZM1095.8 704.6L1093.4 703.5L1093.7 706.3L1094.8 708.4L1096.3 708.4ZM1089 704.6L1087.6 708L1088.4 706.7ZM1086.8 709.3L1087.3 708.8L1087.6 708ZM1086.8 709.3L1085 711L1086.4 709.9ZM1102.6 711.6L1100.4 707.8L1099.2 709.5L1097.5 711.2L1095.1 711.6L1094.3 714L1098 712.7L1098.1 715.5L1101 716.5L1102.3 714.8ZM1083.2 737.2L1083.7 735.1L1084.4 731.9L1086.3 729.8L1086.9 727L1089.1 726.6L1087.2 724.4L1086.5 722.3L1087 719.5L1088.8 717.6L1086.2 715.2L1084.4 714L1083 715.9L1082.2 718L1079.4 719.1L1077.6 721.9L1074.5 723.4L1073.9 725.5L1071.1 724.4L1070.1 725.5L1070.2 727.6L1070.6 729.8L1072 731.9L1072.5 734.7L1075.3 736L1077.6 735.5L1079.5 736L1080.6 737.2ZM1061.5 741.1L1063.7 741.1L1064.1 738.3L1064.4 735.1L1061.6 732.5L1059.9 730.4L1058.8 727.2L1055.9 725.1L1053.8 724L1050.5 720.6L1048.1 717.6L1043.9 716.7L1045.3 719.7L1047.9 722.3L1050.2 725.1L1051.2 728.1L1053.7 730.8L1054.9 734L1057.3 737.2L1060 739.4ZM1094.5 739L1096.8 738.3L1095.6 735.8L1093.8 732.8L1095.2 732.5L1097.3 730.4L1092.9 730.8L1091 730.4L1091.6 727.6L1094.8 727.8L1099.2 727.8L1100.9 725.3L1096.7 726.6L1092.5 725.9L1090.6 727.2L1089.9 730.8L1088.7 734.5L1089.9 736.2L1089.5 740.5L1091.4 740.5L1091.6 735.5L1092.6 734.7L1093.3 736.8ZM1076.7 743.4L1073.5 742.6L1072.5 743.4L1068.9 743.2L1067.9 742.2L1064.3 741.3L1062.5 743.2L1064.7 744.5L1066.7 745.2L1069.6 745.4L1073.3 746.4L1077.1 746.4L1079.6 747.3L1080 745.4L1077.1 745.2ZM1088.4 746.9L1086.5 746.4L1083.5 746.6L1082.2 746.4L1079.9 746.2L1081.1 747.5L1083.6 747.7L1084.5 747.9L1087.3 747.7L1090.2 747.7L1095.5 747.5L1095.9 746.4L1092.2 746.6ZM1088.1 749.6L1089.9 750.7L1091.5 750.1L1088.2 749ZM1135.6 699.6L1135.7 700.5L1136.2 700.1ZM1100.4 704.1L1097.5 702L1098.2 704.1L1098.2 706.3L1099.4 707.3ZM1107.1 725.5L1105.2 724.4L1105.4 727L1105.8 730.4L1107.2 728.7ZM1106.4 736.2L1110.7 736.6L1111.4 735.1L1106.1 735.1ZM1102.2 736.4L1103.7 736.8L1104.5 735.8L1102.3 735.5ZM1151.5 736.4L1153.2 739L1152.4 736.8L1149.3 734.3ZM1151.3 739.8L1151.8 737.7L1147.5 739.8L1144.2 740.7L1145.5 741.9L1148.3 741.9ZM1124.3 746.6L1127.2 746.2L1129.8 748.1L1133.6 748.4L1134.7 746.4L1136.7 745.2L1139.4 746.2L1141.1 749L1142.8 750.3L1146.5 751.3L1147.5 750.7L1143.3 745.8L1141.6 743.2L1143.1 743L1142.6 741.5L1139.5 740.2L1136.3 736.8L1130.7 734.3L1125.1 732.1L1122.2 733.4L1119.3 735.8L1117.6 730.4L1114.7 729.6L1111.9 730.4L1113.7 733.4L1117.1 733.8L1115.2 735.1L1115.1 737.2L1117.3 737L1121.1 738.5L1124.7 740.5L1125.8 743.7ZM1156.2 740.2L1156.8 741.8L1156.8 741.6L1156.9 741.1ZM1117.5 740.5L1117.5 743.2L1118.6 741.5ZM1099.6 747.9L1096.5 750.7L1098.4 750.5L1102.4 748.4L1103.9 746.6ZM1132.3 751.6L1131.9 752.2L1132.5 752.2Z" fill="#FF5200" stroke="none" fill-rule="evenodd"/>
<path d="M1061.8 686L1062.4 683.8L1065 682.3L1067.3 682.8L1068.6 685.3L1068.5 683.2L1070.6 682.8L1073.2 681.7L1075.3 681.1L1076.7 680.2L1079.3 679.6L1080.9 678.1L1082.3 675.9L1083.8 673.2L1084.6 670.4L1085.7 667.8L1085.7 665L1084.5 664.2L1084.7 662.5L1083.5 660.3L1080.2 657.1L1076.7 653.9L1077.1 651.8L1078.4 650.7L1080.3 649L1076.7 648L1074.1 649L1070.7 646.5L1070.7 645.4L1072.8 644.3L1073.1 643.7L1071.7 643.7L1069.9 643.7L1068.2 643.7L1066.4 643.7L1064.7 643.7L1062.9 643.7L1061.2 643.7L1059.4 643.7L1057.7 643.7L1055.9 643.7L1054.2 643.7L1052.4 643.7L1050.7 643.7L1048.9 643.7L1047.2 643.7L1048.1 645.8L1048.9 647.9L1049.7 650L1050.5 652.1L1051.3 654.3L1052 656.4L1052.7 658.5L1053.4 660.6L1054.1 662.7L1054.7 664.8L1055.3 667L1055.8 669.1L1056.3 671.2L1056.8 673.3L1057.2 675.4L1057.6 677.5L1058 679.7L1058.4 681.8L1058.7 683.9L1059.1 686L1060.9 686L1061.8 686ZM1077 645.6L1079 644.3L1078.7 643.7L1076.9 643.7L1076.5 643.7ZM1087.5 681.7L1087.9 680.6L1088.5 676.4L1087.6 674.9L1086.4 676.4L1086 679.6ZM1068.4 686L1068.3 686L1068.4 686L1068.5 686Z" fill="#8DB0FA" stroke="none" fill-rule="evenodd"/>
<path d="M977.8 674.9L982.4 674.6L986.6 675.3L988.1 677L990.3 678.5L993.7 679.6L991.5 681.3L993.6 683.8L995.5 684.3L997.7 683.8L998.4 682.8L998.8 684.9L999.5 688.1L1000.7 692.4L1001.9 695.6L1003.1 697.7L1004.3 700.9L1005.8 703.7L1007.3 707.3L1008 709.5L1010 711.4L1011.2 709.9L1012.7 708.8L1014.1 706.7L1014 703.1L1014.6 700.7L1014.1 698.8L1013.9 695.6L1015.4 694.7L1017.4 693.2L1018.7 691.3L1020.4 689.6L1022 687.5L1023.7 686.4L1025 684.9L1025.2 683.2L1026.9 682.3L1028.7 682.1L1030.4 681.1L1030.3 680.1L1030 678L1029.6 675.8L1029.3 673.7L1028.9 671.6L1028.4 669.5L1028 667.4L1027.5 665.3L1025.7 665.3L1023.8 665.3L1022 665.3L1020.2 665.3L1018.4 665.3L1016.6 665.3L1014.7 665.3L1012.9 665.3L1011.1 665.3L1009.3 665.3L1007.4 665.3L1005.6 665.3L1003.8 665.3L1002 665.3L1000.2 665.3L998.3 665.3L996.5 665.3L994.7 665.3L992.9 665.3L991 665.3L989.2 665.3L987.4 665.3L985.6 665.3L983.8 665.3L981.9 665.3L980.1 665.3L978.3 665.3L976.5 665.3L976.8 667.4L977.1 669.5L977.4 671.6L977.7 673.7L977.8 674.9ZM1016.8 715.7L1018.2 713.7L1016.9 710.5L1014.5 707.8L1014.2 711.6L1014.9 715.9Z" fill="#E2F0A2" stroke="none" fill-rule="evenodd"/>
<path d="M859.6 610.1L860.4 606.9L857.3 606.9L858.6 604.9L855.8 604.9L854.5 607.1L853.8 608.9L854.8 611.1L855.9 612.5L858 612.3L858.7 614.1L858.7 615.5L856.3 615.5L856.7 617.1L855.1 618.4L857.8 619.2L858.6 619.6L856.5 620.2L854.1 622.1L857.8 621.7L861 620.8L865.6 620L866.2 616.9L864 616.3L863.5 614.9L861.6 612.9L861 611.1ZM846.8 618.2L847.5 619.2L850.5 618.6L853.5 617.8L853.9 615.5L854.6 613.1L853.5 611.7L850.9 611.7L850 613.1L847.6 613.7L847.8 615.5L848.2 617.1ZM878.8 640.1L880 639.7L879.7 636.9L878.3 638ZM880.2 641.2L877.8 641.2L878.1 643.1L879 643.1L880.4 643.1ZM864.9 641.6L867.3 640.3L869 639.2L868.7 638L869 636.5L870.4 635.9L872.1 636.1L873.8 636.7L876.2 635.4L877.2 635L878.7 634L879.7 634.4L880.9 635L881.6 636.9L882.5 638.2L884.6 639.5L886.1 640.7L888.2 641.6L889.3 642L890.7 643.1L890.8 643.1L891.1 643.1L892.8 643.1L893.1 642.2L894.3 643.1L894.6 643.1L895.8 643.1L895.8 643.1L893 640.9L891.3 640.3L891.2 639.2L888 638L886.6 635.7L884.5 634.2L884.5 631.9L886.7 631.2L886.8 632.9L888.1 632.3L889.5 634.4L891.8 635.9L894.5 637.6L896.3 638.6L897.3 640.1L897.3 642.4L897.9 643.1L898 643.1L899.8 643.1L901.5 643.1L903.3 643.1L903.5 643.1L903.6 642.2L905 642.8L906.1 641.4L908.7 641.4L909.7 642.2L911.3 641.2L913.9 640.7L912.2 639.9L911.3 638L911.4 636.5L912.6 636.1L912.5 634.4L913.9 632.3L914.2 631L915.7 629.4L917.5 630L920.3 630.6L918.6 631.9L920.6 633.6L921.5 634L923.5 632.7L925.4 632.1L923.1 631.7L922.5 630L924.9 629.1L927.2 628.3L929.2 628.1L928.1 630L927 631.7L926.4 632.7L928.3 633.8L932.1 635.9L935.1 638L935.5 640.1L933 641.2L930.4 641.2L926.8 640.5L924 639L920.6 639L917.4 640.9L913.9 640.9L914.1 642.4L911.5 642.4L909.7 643.1L910.2 643.1L911.9 643.1L913.7 643.1L915.4 643.1L917.1 643.1L918.9 643.1L920.6 643.1L922.3 643.1L924.1 643.1L925.8 643.1L927.5 643.1L929.3 643.1L931 643.1L932.7 643.1L934.5 643.1L936.2 643.1L937.9 643.1L939.7 643.1L941.4 643.1L943.1 643.1L944.9 643.1L946.6 643.1L948.3 643.1L949.7 643.1L949.8 642.2L947.4 639L945.2 636.9L944.4 634.8L943.4 632.7L946 629.6L949.1 628.5L952.6 628.9L953.4 632.1L950.4 633.8L949.3 634.2L951.9 636.5L953.9 637.3L954.5 640.1L956 643.1L957 643.1L958.8 643.1L960.5 643.1L962.2 643.1L964 643.1L965.7 643.1L967.4 643.1L966.9 641L966.4 639L965.8 636.9L965.3 635.1L963.5 634.8L963.2 630.6L963.9 630.4L963.4 628.7L962.8 626.7L962.2 624.6L961.5 622.6L960.8 620.6L960.1 618.6L959.4 616.6L958.7 614.6L957.9 612.6L957.1 610.7L956.4 608.7L955.6 606.8L954.8 604.8L953.9 602.9L952.4 602.9L950.9 602.9L949.4 602.9L947.9 602.9L946.4 602.9L944.9 602.9L943.4 602.9L941.9 602.9L940.3 602.9L938.8 602.9L937.3 602.9L935.8 602.9L934.3 602.9L932.8 602.9L931.3 602.9L929.8 602.9L928.3 602.9L926.8 602.9L925.3 602.9L923.7 602.9L922.2 602.9L920.7 602.9L919.2 602.9L917.7 602.9L916.2 602.9L914.7 602.9L913.2 602.9L911.7 602.9L910.2 602.9L908.7 602.9L907.1 602.9L906.1 602.9L906.1 602.9L903 602.9L899.4 603.7L901 605.5L900.8 607.9L898.3 606.7L896.8 607.1L896.3 609.1L896.7 611.5L895 613.3L892.9 612.7L889 613.5L886.2 614.3L883.4 613.3L881.1 614.1L879.4 613.1L879.3 611.1L879.9 609.1L879.7 606.7L876.3 608.1L876.6 611.1L877.5 613.1L877.1 614.7L874.7 614.9L873.1 615.3L871.2 616.1L870.5 617.8L869.2 619.4L866.4 620.4L866 622.1L863.5 623.5L860.7 622.9L860.8 625.2L858.5 624.8L855.7 625.6L856 626.6L859.8 628.5L861.6 631L861.5 633.8L860.4 636.1L857.5 636.1L854.1 635.9L849.8 635.4L847.7 636.9L848.4 640.1L848 643.1L849.5 643.1L851.2 643.1L852.9 643.1L854.7 643.1L856.4 643.1L858.2 643.1L859.9 643.1L861.6 643.1L863.4 643.1L863.9 643.1ZM871.9 604.1L873.5 605.9L875.8 605.9L878 604.5L879.3 602.9L878.5 602.9L877 602.9L875.4 602.9L873.9 602.9L872.4 602.9L871.6 602.9ZM880.6 604.1L882.1 607.1L883.4 609.7L884 611.3L886 611.1L888 609.9L889 608.9L889.3 606.5L891 603.7L891.7 602.9L890.5 602.9L889 602.9L887.5 602.9L886 602.9L884.5 602.9L883 602.9L881.5 602.9L880 602.9L879.8 602.9Z" fill="#A9CF6B" stroke="none" fill-rule="evenodd"/>
<path d="M623 591.4L632.1 586.4L640.1 584.3L653.5 581.1L658.4 581.9L665.9 583.4L670.5 584.1L676 585.2L680.1 584.1L686.6 583.2L689.7 582.8L692.2 584.3L698.2 583.7L702.2 585.2L703.9 586.2L703.5 587.3L710 587.2L713.4 586.4L717.2 586.1L721 587.3L726.9 587L729.4 586.4L730.2 584.6L734.2 582.5L734.7 581.1L737.7 580L738.3 581.6L738.2 584.1L739.1 585.5L741.2 586.4L740.5 588.3L746.5 584.1L751.5 583.7L750.8 586.1L747.9 588.8L744.2 590.1L740.7 589.9L740.1 591.8L735.7 594L731.1 595.4L726.8 597.3L722.8 599.8L720.1 602.1L718.6 604.5L719.3 607.7L723.4 608.1L725.9 609.1L729.3 611.5L733.3 611.9L731.2 616.1L732.1 618.2L732.6 619.6L735 619L737.4 614.1L739.2 612.1L742.8 609.7L744.8 607.1L743.3 604.5L746.1 602.1L748.1 597.5L752.4 597.7L756.1 599L758.5 600.2L757.8 603.1L757.1 604.5L758.9 605.5L762.4 604.5L766.1 601.5L767.5 605.1L767.4 609.1L768.7 611.5L771.4 612.7L772.3 614.7L773.5 616.7L771.6 619L766.6 621.7L762.4 621.9L755 621.9L750 624.4L745.4 627.9L748.4 626.4L752.4 624.6L756.8 623.9L756.7 625L754.6 626.4L754.7 628.5L754.7 630.2L757 631L759.4 631.2L762.2 628.7L762.5 630.6L760 632.1L755.3 633.6L751.2 635.9L750.5 634.2L753.6 632.1L749.6 632.7L746.6 634.2L743.6 635.4L741.6 637.3L741.3 639L742.3 639.7L739.5 640.3L735.7 641.4L734.6 642L734 643.9L731.7 645.6L731.2 644.5L731.2 646.7L728.8 649.7L728.6 653.1L726.2 654.6L723.5 656.3L720.9 657.8L717.5 660.1L715.7 662.9L715.3 665.7L716.3 668L716.5 671.4L715.5 674.6L714.1 675.1L713 672.9L711.9 669.5L712.3 666.7L711 664.6L708.6 665.2L706.2 663.7L703.5 664L700.7 664.2L700.7 666.5L698.4 666.3L695.8 665.5L692.2 665.5L690.1 666.3L685.9 668.9L684.2 673.2L682.7 677.4L682.1 681.1L682.7 684.3L684.1 687.5L686.2 689L687.2 689.8L690.8 689L693.7 688.5L694.7 686.4L695.4 683.8L700.1 682.6L701.9 682.8L702.1 684.3L700.2 687L699.5 689.6L698.4 691.3L697.2 694.5L697.9 694.9L699.4 694.9L702.3 694.7L704.1 694.7L707.1 696.7L706.3 699.9L706 703.1L705.5 705.2L706.8 707.3L708.3 709L710.1 709.9L712.4 709L713.4 708.2L716.2 708.8L717.4 710.3L718.3 711.6L719.4 709.7L720.6 708.4L721.1 706.1L722.5 705L725.9 704.3L728.3 702.4L729.4 702.4L728.5 705.2L728.8 706.9L731 704.1L731.6 702.8L732.3 704.1L734.5 705.6L735.2 706.3L739 706.1L741.8 706.9L744.7 705.8L746.6 705.8L747.4 707.8L749.2 710.5L752 711.6L754.7 715.2L759.4 716.1L762.2 716.9L765 718.4L766.5 719.7L767.8 724.4L768.7 726.6L768.1 728.7L771.2 729.3L772.5 730.2L776.3 730.8L779.2 733.6L783.9 734.7L787.7 734.9L790.6 736.6L793.4 739L796.7 739.8L797.7 744.1L797.5 745.8L796.5 749L793.7 752.2L791 756.5L790.3 760.7L790.2 766.1L789.5 770.4L787.8 773.6L787.4 775.7L785.7 777.6L783.5 777.8L780.3 779.5L777.6 780.4L775 782.8L774.2 785.3L774.6 789.2L772.5 792.8L771.1 795.6L769.2 797.5L767.5 801.3L765.1 803.1L762.4 803.1L758.9 801.3L761.5 804.8L762.8 806.7L761.9 809.9L759.7 811.4L754.6 812L755.1 815.8L750.5 816.2L753.5 819.4L752.1 821.5L752.5 824.7L749.5 826.8L752.8 829.3L753.7 830.8L752 834.1L750.8 837.2L752.8 839.8L751.2 840.3L750 842.9L747.3 842.3L744 840.3L741 837.2L738.4 833L736.8 828.9L737.3 825.7L737 821.5L735.9 817.9L734.7 813.1L733.3 808.2L733.8 804.5L734.5 799.2L733.6 793.9L732.9 789.6L733.6 783.2L733.2 778.9L732.9 772.5L732 768L729.7 765.7L725.8 763.5L722.4 761.4L720.1 758.4L718.1 754.3L715.3 749L713.2 744.7L710.2 741.5L709.5 738.3L711.3 736L712.1 733.6L710.2 733.4L710.5 730.8L711.8 727.6L713.7 726.1L714.3 723.4L716.7 720.6L717 716.9L716.9 714.2L716.2 713.3L715.5 711.6L715 709.7L713.3 709.7L711.7 711.2L711.5 713.1L709.4 712.2L707 711.2L705.7 710.5L704.9 708.8L703 707.8L701.6 706.3L701.7 705L700 702.4L698.8 700.9L697 700.5L694.3 699.4L691.5 698.8L690.1 697.5L687.3 694.3L685.5 694.1L682.5 695.2L678.9 693.9L676.5 692.8L672.9 690.2L670.2 689.4L667.8 687L667 685.1L667.9 682.8L667.1 679.6L665 676.4L662.2 673.6L662.3 671.7L660.9 669.1L658.6 666.7L658.5 662.5L655.7 661L655.2 663.5L656.9 667.8L657.9 671L658.9 674.2L659.7 677L660.7 679.1L659.5 679.6L656.7 676.1L656.8 673.2L655 671.4L653.2 669.3L654.8 667.4L653.1 665L652.7 662.5L652.2 659.3L650.8 656.1L647.7 655L647.1 650.5L647.2 648L646.6 644.3L646.7 642.4L648.8 639L649.4 636.9L652.2 633.8L654.3 630.2L656 625.6L658.7 625.8L658.5 627.5L660.2 625.4L659.7 624.4L658.6 622.3L656 620.2L656.7 617.1L656.5 613.5L657 611.1L656.5 608.1L655.4 605.1L652.9 604.5L651.6 602.5L648.5 602.1L645.7 601.9L644.1 600.6L640.5 601.2L636.7 602.5L632.6 603.5L637 600.2L630 603.1L627 605.1L619.9 608.1L614.7 610.1L609 611.7L604.8 612.7L601.5 613.1L608.7 610.5L613.4 609.1L619.3 606.5L622.6 604.5L619.7 605.1L617.7 604.5L615.9 604.1L618.2 602.1L616.3 601.2L616.5 599.2L618.2 597.3L621.9 596.1L628 595.4L631.1 593.1L627.5 593.5L622.9 593.3ZM753 840.7L754 841.9L758.5 844.1L760.1 844.9L758.4 845.7L754.7 846.3L750.9 844.9L748.7 843.7L750.7 842.7L750.8 841.1ZM796.7 602.5L791.5 600.2L789.6 597.3L788.5 594.4L787.7 589.7L788.9 587L793.6 584.3L789.7 582.5L791.5 579L791 576.4L789.4 573.9L785.8 572.7L778 573.1L775.7 570.6L775 569.4L782.7 567.6L787.2 566.6L794.6 564.7L801.1 563.7L812.9 563.1L824.6 562.2L833.4 562.4L838.6 563.7L844 564.7L849.7 565L843.5 566.8L841 569.9L839.8 572.3L838 574.7L834.8 577.3L834.2 579.8L830.5 581.6L833.7 582.7L829.2 584.3L826.1 586.1L820.3 587L816.3 588.8L812.1 591L806.9 591.6L804.6 594.4L801.4 597.3L798.7 601.2ZM776.5 589.4L771.3 592.5L767.9 596.3L764.7 598.2L763 597.3L759.6 595.4L757.8 593.5L751 593.9L751.1 592.5L757.5 591.6L759.9 588.8L761.9 586.6L758.3 583.7L756.2 582.8L751.8 583.4L747.7 583.4L743.7 581.6L744.6 579L747.8 576.9L753 576.9L758 577.1L760.9 578.5L764.7 580.4L767.9 581.6L770.8 583.4L771.1 585.2L774.1 587.3ZM718.8 585.2L711.2 585.9L706.1 586.1L703.5 584.6L705 582.5L711.4 581.6L705.6 580.7L709.5 578.5L713.9 578.1L719.1 578.1L725.3 577.3L724.8 579L727 580.7L725.9 583.4L722.9 585.2ZM697.9 579.3L697.6 581.2L702.1 580.9L707.8 578.8L712.5 577.6L711.8 576.1L707.9 575.6L701.9 576.8ZM751.2 572.3L763.2 572.7L767.7 570.6L772.9 569.1L781.3 566.6L788.8 564.7L793.4 563.4L785.2 562.7L773.9 562.8L761 564.1L756.9 565.4L761 566.8L761.7 568.3L756.3 569.9ZM760.8 575.4L754.1 575.7L745.6 575.2L748.4 572.6L753.7 572.3L760.1 573.4L762.1 573.9ZM725.2 575.1L718 575.7L714.6 574.4L718.3 572.6L726.3 572.3L729.8 573.4ZM758.1 569.4L752.4 569.1L750.4 566.8L756.3 565L760.7 566.1ZM733.7 580.7L728.9 580.2L729.6 578.1L735.3 576.4L736.2 578.1ZM742.5 579.8L737.5 579.5L739.5 576.8L745.7 576.4ZM746.1 594.8L741.2 596.7L737.7 595.4L738.2 592.5L743.1 590.7L745.6 592.2ZM764.3 627.3L767 623.9L770.2 620.6L773.2 619L771.5 621.9L774.3 623.3L775.4 625.4L775.3 627.5L773.9 629.1L772 628.7L769.8 628.7L769.9 627.3ZM705.7 681.9L707.8 680L710.7 679.3L714.4 679.6L717 680.8L719.6 682.3L722.7 684L725.4 685.5L723.8 686.2L718.7 686.4L720.2 684.7L717.7 682.8L714.1 681.7L711.4 680.8L708.6 681.5ZM724.6 689L727.9 686.2L729.9 686.4L733.1 686.6L735.8 689L732.8 689.6L729.8 690.9L727.1 690ZM717.3 689.4L719.7 689.2L720.9 690.2L718.6 690.7ZM738 689.2L740.8 689.4L740.5 690.2L737.9 690.2ZM828.5 591.6L831.6 589.9L834.5 591.2L837.9 590.3L840.8 589.7L842.6 591.6L843.9 592.5L841.7 593.9L837.2 595.4L833.5 595.2L830.6 594.6L831.6 593.5L828.9 592.7L831.2 592ZM853 652.2L854.1 652L858.1 653.3L859.9 653.7L863.5 652.2L866.2 650.7L868.8 650.1L872.4 650.1L876.8 649.7L880.8 649L883 649.7L882.3 650.9L882.2 652.9L883.2 655L881.6 656.3L883.3 657.8L886 658.4L887.3 658.4L891 659.7L892.1 661.8L895.3 662.9L898.1 664L899.8 662.5L899.6 659.9L902.2 658.4L905 659L908.8 661.2L912.5 662L916.1 662.7L917.9 661.8L919.6 661.4L922 661.8L922.7 664.6L922.9 665.7L924.8 668.9L925.9 671L927.1 674.2L929.1 677.4L929.6 679.6L932 681.7L932.7 683.8L933 687L933.5 688.7L935.4 690.2L937 694.5L937.6 695.6L939.5 697.1L941.5 699.2L943.5 700.9L945 702L944.9 703.9L946.5 706.3L948.4 706.3L952.1 704.8L955.9 704.6L960 703.5L959.7 706.3L958.9 709.5L957.6 711.6L956.2 715.9L954.4 719.1L951.6 722.3L949.4 724.4L946 728.1L943.1 730.8L941.2 733L939.7 735.1L938.5 737.5L937.3 740.5L936.9 742.6L938 743.7L937.9 746.9L938.4 750.1L939.9 751.6L939.8 755.4L940 759.7L939.5 761.8L937.5 764L934.6 765.7L932.5 767.2L930.7 769.1L928.5 771L928.6 773.1L929.4 775.7L929.2 779.5L928.1 781.5L924.3 782.8L923.5 784.2L923.9 786.4L922.7 789.6L920.3 792.4L917.9 795.6L914.9 798.6L912 800.5L909.6 801.3L905.7 801.6L903 801.8L899.3 803.1L896.7 802L896.5 799.2L896.4 796.6L894.9 793.9L893.7 789.8L891.9 787.5L891.1 784.2L890.4 777.8L888.6 773.6L886.8 769.3L885.6 766.1L885.6 762.9L887 758.6L888.7 755.4L889.5 752.2L888.4 747.9L887.7 743.7L886.8 741.5L886.6 739.4L885.8 738.3L884.3 736.8L882.1 734L880.6 730.8L881.1 728.3L881.7 725.5L882.1 723.4L881.9 721.2L881.5 720.2L880.2 718.9L879.2 719.1L876.8 719.3L874.9 719.5L873 716.9L872 715.2L869.9 715L867.3 715.2L865.4 715.9L863.5 716.5L861.6 717.6L859.7 718.4L857.8 717.8L855 717.6L852.1 718.4L849.3 719.3L846.5 718L843.1 715L841.7 713.7L839.9 712.7L838.6 710.5L838 708.4L836.1 706.3L835.2 705.2L833.4 703.5L832.1 702L831.9 699.9L830.6 697.3L832.6 694.5L833 690.2L833.3 687L831.9 683.8L833.5 679.6L834.3 677.4L836.3 673.2L839.7 669.3L842.5 667.8L845.3 665.7L845.9 663.5L845.8 661.4L847.3 658.8L849.8 656.9L851.8 655.4ZM956.4 754.3L957.9 761.8L956.1 766.1L954.8 770.4L952.5 776.8L950.2 782.1L946.4 783.4L944.7 782.1L943.8 776.8L945.9 772.5L945.7 768.2L946.9 763.3L950.3 762.2L952.7 760.3L954.2 757.5ZM1122.8 592.5L1122 593.5L1120 593.1L1126.7 596.3L1129.3 597.7L1124.7 599.2L1122 600.6L1121.7 602.1L1115.3 602.5L1109.9 601.2L1114.2 604.1L1115.4 606.5L1118.2 609.7L1119.2 612.1L1118.9 614.1L1120.6 616.1L1119.7 618.2L1119.5 620.2L1115.5 617.1L1110 612.1L1106.3 608.1L1106.1 605.1L1105.8 602.1L1106.8 599.2L1105.9 597.3L1102.3 599.2L1097.8 599.2L1099.3 603.1L1095.8 604.1L1089.1 603.5L1081.5 603.5L1081.2 607.1L1081.1 611.1L1082.2 614.1L1087.9 615.1L1091.8 617.1L1093.4 620.2L1096 624.4L1096.1 627.5L1096.5 631.7L1095.1 634.8L1092.4 637.3L1090.1 636.7L1089.1 638.4L1089 641.2L1088 643.3L1086.9 644.3L1089.9 646.9L1092.9 649.7L1094 652.2L1094 653.7L1091.7 654.6L1089.9 655L1088.8 652.9L1087.9 649.7L1086.1 648.2L1084.1 647.5L1083.3 645L1081.3 643.7L1079 644.3L1077 645.6L1076.1 642.2L1074 641.4L1072.8 644.3L1070.7 645.4L1070.7 646.5L1074.1 649L1076.7 648L1080.3 649L1078.4 650.7L1077.1 651.8L1076.7 653.9L1080.2 657.1L1083.5 660.3L1084.7 662.5L1084.5 664.2L1085.7 665L1085.7 667.8L1084.6 670.4L1083.8 673.2L1082.3 675.9L1080.9 678.1L1079.3 679.6L1076.7 680.2L1075.3 681.1L1073.2 681.7L1070.6 682.8L1068.5 683.2L1068.6 685.3L1067.3 682.8L1065 682.3L1062.4 683.8L1061.8 686L1060.9 688.1L1062.7 691.3L1064.9 693.4L1066.9 694.9L1068.8 698.8L1069.3 702L1068.9 704.1L1066.3 706.3L1065 706.5L1064.6 708.4L1062.4 709.5L1061.5 710.3L1061.7 707.3L1060.7 706.5L1058.7 706.1L1057.4 703.7L1055.6 702.4L1053.6 701.6L1053.3 700.1L1051.6 700.1L1051.9 703.1L1050.8 706.3L1051 709L1052.8 710.5L1053.6 713.3L1055.5 714.2L1057.5 715.9L1059.3 718.4L1059.6 721.2L1060.2 723.4L1061 725.7L1059.7 725.9L1057.8 724.2L1055.5 722.5L1054.1 719.7L1053.4 716.9L1052.9 714.8L1051.9 713.3L1049.9 711.2L1049.2 709.5L1049.5 706.3L1049.4 703.1L1048.2 699.9L1046.9 696.7L1046.1 693.4L1044.7 692.4L1042.6 694.9L1040.3 694.5L1040.2 691.3L1038.9 688.1L1036.7 686L1035.1 683.8L1033.8 681.1L1031.3 680.6L1028.7 682.1L1026.9 682.3L1025.2 683.2L1025 684.9L1023.7 686.4L1022 687.5L1020.4 689.6L1018.7 691.3L1017.4 693.2L1015.4 694.7L1013.9 695.6L1014.1 698.8L1014.6 700.7L1014 703.1L1014.1 706.7L1012.7 708.8L1011.2 709.9L1010 711.4L1008 709.5L1007.3 707.3L1005.8 703.7L1004.3 700.9L1003.1 697.7L1001.9 695.6L1000.7 692.4L999.5 688.1L998.8 684.9L998.4 682.8L997.7 683.8L995.5 684.3L993.6 683.8L991.5 681.3L993.7 679.6L990.3 678.5L988.1 677L986.6 675.3L982.4 674.6L977.8 674.9L975 674.4L971.9 674.2L969 673.6L967.8 671L963.7 671.9L960 669.9L956.8 667.8L954.9 664.6L952.6 663.7L951.8 664.6L951 665.7L952.7 668.9L955 671.4L955.9 673.2L957.3 675.7L958.5 673.4L958.8 676.4L960.5 677L963.3 677L965.5 674.6L967.1 672.7L967.8 675.7L969.9 677.9L972.1 678.5L974.4 680.6L972.7 684.9L971.3 688.1L969.1 690.2L966.4 692.4L962.8 693.4L961 695.2L957.4 696.9L954.7 698.8L951 700.1L948.2 701.4L945.4 701.6L944.4 699.9L943.8 696.7L943.1 693.4L941 690.2L939 687L936.3 682.8L934.8 678.5L932.3 675.3L930.6 672.5L928.6 669.9L927.6 668.5L927.1 665.7L926.5 668.9L926.2 669.3L924.3 667.2L922.9 664.8L922.7 664.6L922 661.8L924.8 662.3L925.6 661.6L926.4 659.9L926.6 658.2L927.2 656.3L927.5 653.9L927.6 651.8L927.8 650.5L925.6 650.5L924 651.4L921.4 651.8L918.5 650.1L916 651.4L913.7 650.3L911.9 649.7L911.4 646.7L909.6 644.8L909.3 643.3L911.5 642.4L914.1 642.4L913.9 640.9L917.4 640.9L920.6 639L924 639L926.8 640.5L930.4 641.2L933 641.2L935.5 640.1L935.1 638L932.1 635.9L928.3 633.8L926.4 632.7L927 631.7L928.1 630L929.2 628.1L927.2 628.3L924.9 629.1L922.5 630L923.1 631.7L925.4 632.1L923.5 632.7L921.5 634L920.6 633.6L918.6 631.9L920.3 630.6L917.5 630L915.7 629.4L914.2 631L913.9 632.3L912.5 634.4L912.6 636.1L911.4 636.5L911.3 638L912.2 639.9L913.9 640.7L911.3 641.2L909.7 642.2L908.7 641.4L906.1 641.4L905 642.8L903.6 642.2L903.3 644.3L904.5 645.8L905.8 647.5L904.4 647.5L903.8 648.6L904.7 650.7L902 650.1L900.9 648L900.7 646.7L899.9 645.4L898.5 643.9L897.3 642.4L897.3 640.1L896.3 638.6L894.5 637.6L891.8 635.9L889.5 634.4L888.1 632.3L886.8 632.9L886.7 631.2L884.5 631.9L884.5 634.2L886.6 635.7L888 638L891.2 639.2L891.3 640.3L893 640.9L895.8 643.1L895.2 643.7L893.1 642.2L892.6 643.9L893.7 645.4L892.6 646.7L891.7 647.7L891.2 647.5L891.3 646L891.9 644.3L890.7 643.1L889.3 642L888.2 641.6L886.1 640.7L884.6 639.5L882.5 638.2L881.6 636.9L880.9 635L879.7 634.4L878.7 634L877.2 635L876.2 635.4L873.8 636.7L872.1 636.1L870.4 635.9L869 636.5L868.7 638L869 639.2L867.3 640.3L864.9 641.6L863.5 643.7L863 644.5L863.9 645.8L862.6 646.9L862.3 648.4L860.1 649.9L859.6 650.3L855.7 650.3L853.9 651.6L853.5 651.8L852.3 650.7L850.4 649.2L847.7 649.7L848 646.5L846.8 645.8L847.9 643.3L848.4 640.1L847.7 636.9L849.8 635.4L854.1 635.9L857.5 636.1L860.4 636.1L861.5 633.8L861.6 631L859.8 628.5L856 626.6L855.7 625.6L858.5 624.8L860.8 625.2L860.7 622.9L863.5 623.5L866 622.1L866.4 620.4L869.2 619.4L870.5 617.8L871.2 616.1L873.1 615.3L874.7 614.9L877.1 614.7L877.5 613.1L876.6 611.1L876.3 608.1L879.7 606.7L879.9 609.1L879.3 611.1L879.4 613.1L881.1 614.1L883.4 613.3L886.2 614.3L889 613.5L892.9 612.7L895 613.3L896.7 611.5L896.3 609.1L896.8 607.1L898.3 606.7L900.8 607.9L901 605.5L899.4 603.7L903 602.9L906.1 602.9L909.3 602.3L906.4 601L902.7 601.3L899.8 602.1L897.6 602.1L895.4 600.2L895.3 597.3L896.4 595.4L899.5 592.5L899.7 591.4L897.8 591L895 591.4L894.3 593.5L893.4 595L890.7 596.3L889.3 598.8L889.4 601L892 602.5L891 603.7L889.3 606.5L889 608.9L888 609.9L886 611.1L884 611.3L883.4 609.7L882.1 607.1L880.6 604.1L879.6 602.5L878 604.5L875.8 605.9L873.5 605.9L871.9 604.1L871 601.2L870.9 598.2L873.1 596.7L875.9 595.4L878.7 593.9L880.7 591.6L881.8 588.8L883.7 586.6L885.6 585.5L888.1 583.9L891.4 583.2L895.3 582.1L898.2 581.4L901.2 581.6L904.9 582.8L905.8 583.7L908.8 584.4L913 584.8L919.4 587.3L921.4 589.2L920.4 590.3L917.6 590.5L913.1 589.7L910.2 589.4L912.9 591.6L913.9 593.7L917.2 593.9L918.4 592.9L921.4 593.3L921.1 591L923.1 589.9L926.1 590.3L924.6 586.4L923.7 585.9L927.4 586.4L928.4 588.8L930.7 587.5L937.2 586.4L938 585.3L943.6 585.5L946.2 583.9L947.7 585.3L952.2 584.8L956.2 585.7L958.7 586.4L955.3 584.3L953.4 581.6L953.4 578.1L958 578.1L961.2 580.7L962.3 583.4L965.4 586.1L965.6 589.7L967.3 587.9L966.9 585.2L963.1 581.6L962.6 579L966.8 579.3L970.5 579.8L974.2 581.9L974.1 580.2L969.1 577.3L974.9 576.4L974.6 574.7L979.5 573.4L986.3 572.7L990.8 570.3L996.4 571.8L1005.6 573.1L1007.5 575.6L1004.6 576.4L1010.2 576.8L1017.8 577.6L1023.9 577.3L1029.1 577.3L1033 579.3L1038.5 581.6L1041.5 580.7L1046.8 580.7L1048 578.6L1056.9 579.3L1063.4 580.2L1069.5 581.6L1076.2 581.6L1082.3 583.9L1089.6 584.3L1095.4 583.5L1099.2 585.2L1104.2 583.9L1111.6 585.2M615.4 585.2L617.5 586.4L619.6 588.8L621.9 590.5L615.7 592.5L613.2 593.9L610.9 592.9L611.3 591.6L607 591.6L604.2 592.5M854.1 622.1L857.8 621.7L861 620.8L865.6 620L866.2 616.9L864 616.3L863.5 614.9L861.6 612.9L861 611.1L859.6 610.1L860.4 606.9L857.3 606.9L858.6 604.9L855.8 604.9L854.5 607.1L853.8 608.9L854.8 611.1L855.9 612.5L858 612.3L858.7 614.1L858.7 615.5L856.3 615.5L856.7 617.1L855.1 618.4L857.8 619.2L858.6 619.6L856.5 620.2ZM853.5 617.8L853.9 615.5L854.6 613.1L853.5 611.7L850.9 611.7L850 613.1L847.6 613.7L847.8 615.5L848.2 617.1L846.8 618.2L847.5 619.2L850.5 618.6ZM1109 640.3L1112.3 644.3L1111.9 646.9L1113.5 650.1L1114.5 652.4L1113.4 653.9L1111.9 654.6L1108.8 654.8L1108.7 655.4L1107.7 657.1L1105.8 655.4L1103.4 654.8L1101.1 655.6L1098.6 656.1L1098.6 654.8L1100.1 653.1L1103 652.6L1105.9 652.4L1106 649.7L1106.3 648.6L1108.5 648.8L1109.1 646.5L1108.1 643.3L1107.1 640.7ZM1106.6 640.1L1106.6 638L1110.7 639L1113.2 636.3L1111.1 634.4L1104.1 631.7L1106.1 635.9L1104.7 636.9L1105.6 639ZM1098.7 656.3L1100.9 658.2L1101.4 660.8L1100.6 662.3L1098.9 660.3L1097.1 658.2L1097.9 656.5ZM1104.7 655.6L1104.9 656.9L1103.3 658.6L1101.9 657.6L1102.2 656.1ZM1089.6 613.5L1093.6 616.1L1097.6 620.2L1101.8 623.9L1103.5 628.5L1105.9 630.6L1103.3 630.6L1100.4 626.4L1096.4 621.3L1092.4 617.1ZM1087.6 674.9L1088.5 676.4L1087.9 680.6L1087.5 681.7L1086 679.6L1086.4 676.4ZM1068.4 686L1070.3 686.6L1069.8 689.2L1067.1 689.6L1066.2 687.5ZM1014.5 707.8L1016.9 710.5L1018.2 713.7L1016.8 715.7L1014.9 715.9L1014.2 711.6ZM1088.7 689.2L1091.7 689.4L1092 693.4L1091.4 695.6L1092.2 698.4L1094.7 699.2L1097 701.8L1095.6 701.1L1093.9 699.6L1090.8 699.2L1090 697.7L1088.6 695.6L1088 693.9L1088.8 692.4ZM1100.4 707.8L1102.6 711.6L1102.3 714.8L1101 716.5L1098.1 715.5L1098 712.7L1094.3 714L1095.1 711.6L1097.5 711.2L1099.2 709.5ZM1097.5 702L1100.4 704.1L1099.4 707.3L1098.2 706.3L1098.2 704.1ZM1093.4 703.5L1095.8 704.6L1096.3 708.4L1094.8 708.4L1093.7 706.3ZM1089 704.6L1087.6 708L1088.4 706.7ZM1086.8 709.3L1087.3 708.8L1087.6 708ZM1086.8 709.3L1085 711L1086.4 709.9ZM1070.1 725.5L1071.1 724.4L1073.9 725.5L1074.5 723.4L1077.6 721.9L1079.4 719.1L1082.2 718L1083 715.9L1084.4 714L1086.2 715.2L1088.8 717.6L1087 719.5L1086.5 722.3L1087.2 724.4L1089.1 726.6L1086.9 727L1086.3 729.8L1084.4 731.9L1083.7 735.1L1083.2 737.2L1080.6 737.2L1079.5 736L1077.6 735.5L1075.3 736L1072.5 734.7L1072 731.9L1070.6 729.8L1070.2 727.6ZM1043.9 716.7L1048.1 717.6L1050.5 720.6L1053.8 724L1055.9 725.1L1058.8 727.2L1059.9 730.4L1061.6 732.5L1064.4 735.1L1064.1 738.3L1063.7 741.1L1061.5 741.1L1060 739.4L1057.3 737.2L1054.9 734L1053.7 730.8L1051.2 728.1L1050.2 725.1L1047.9 722.3L1045.3 719.7ZM1062.5 743.2L1064.3 741.3L1067.9 742.2L1068.9 743.2L1072.5 743.4L1073.5 742.6L1076.7 743.4L1077.1 745.2L1080 745.4L1079.6 747.3L1077.1 746.4L1073.3 746.4L1069.6 745.4L1066.7 745.2L1064.7 744.5ZM1090.6 727.2L1092.5 725.9L1096.7 726.6L1100.9 725.3L1099.2 727.8L1094.8 727.8L1091.6 727.6L1091 730.4L1092.9 730.8L1097.3 730.4L1095.2 732.5L1093.8 732.8L1095.6 735.8L1096.8 738.3L1094.5 739L1093.3 736.8L1092.6 734.7L1091.6 735.5L1091.4 740.5L1089.5 740.5L1089.9 736.2L1088.7 734.5L1089.9 730.8ZM1111.9 730.4L1114.7 729.6L1117.6 730.4L1119.3 735.8L1122.2 733.4L1125.1 732.1L1130.7 734.3L1136.3 736.8L1139.5 740.2L1142.6 741.5L1143.1 743L1141.6 743.2L1143.3 745.8L1147.5 750.7L1146.5 751.3L1142.8 750.3L1141.1 749L1139.4 746.2L1136.7 745.2L1134.7 746.4L1133.6 748.4L1129.8 748.1L1127.2 746.2L1124.3 746.6L1125.8 743.7L1124.7 740.5L1121.1 738.5L1117.3 737L1115.1 737.2L1115.2 735.1L1117.1 733.8L1113.7 733.4ZM1105.2 724.4L1107.1 725.5L1107.2 728.7L1105.8 730.4L1105.4 727ZM1096.5 750.7L1099.6 747.9L1103.9 746.6L1102.4 748.4L1098.4 750.5ZM1082.7 746.6L1086.5 746.4L1088.4 746.9L1092.2 746.6L1095.9 746.4L1095.5 747.5L1090.2 747.7L1087.3 747.7L1084.5 747.9L1082.6 747.5ZM1106.1 735.1L1111.4 735.1L1110.7 736.6L1106.4 736.2ZM1144.2 740.7L1147.5 739.8L1151.8 737.7L1151.3 739.8L1148.3 741.9L1145.5 741.9ZM1132.3 751.6L1133.7 755.4L1133.2 759L1136.2 760.7L1136.5 766.1L1136.4 769.3L1140 771.9L1141 775.7L1142.6 778.9L1144.8 782.1L1145.1 785.3L1144.4 788.9L1141.6 793.9L1138.7 798.1L1134.8 801.3L1131.6 805.2L1128.8 808.8L1124.8 809.7L1120.8 812L1118.9 810.7L1115.7 811.6L1112.1 810.3L1111.3 807.7L1112.1 805L1110.6 804.5L1111.4 802.8L1109.6 803.9L1111.7 799.2L1106.8 803.1L1106 800.9L1105.1 798.8L1102.2 797.1L1097.1 796.2L1091.1 797.7L1086.9 799.2L1085.2 801.1L1078.9 801.3L1074.4 803.5L1071 803.1L1069.6 802L1070.6 800.3L1072.7 797.1L1072.6 793.4L1072.9 790.2L1072.5 787.5L1072.2 784.2L1073.1 781L1074.5 776.8L1075.3 775.3L1078.2 773.6L1081.2 772.7L1085.1 771.4L1089 770.6L1091.8 767.2L1093.4 764.6L1095.8 763.5L1098.1 760.7L1101.3 758.6L1103.8 760.3L1106.6 760.7L1107.3 758.6L1109.8 755.2L1113.1 754.3L1113.5 753.1L1117.8 754.8L1121.2 754.8L1119.3 757.5L1117.9 760.7L1120.3 762.9L1123.5 765.7L1126.2 766.3L1128.4 762.9L1129.8 758.6L1130.1 755.4ZM1115.4 815.6L1118 816.5L1121.4 816L1119.6 818.8L1116.7 821.1L1113.8 821.5L1114.1 819ZM1172.9 802.2L1174.4 804.5L1173.9 807.3L1174.6 809L1178.9 809.2L1174.4 812.6L1172.2 814.8L1167.3 817.5L1166.9 816.9L1169.3 814.6L1168.3 812.6L1171.3 810.5L1173.1 807.3L1172.5 803.9ZM1164.5 815.2L1165.4 817.7L1161.3 820.5L1159.2 822.2L1155.3 823.6L1152 826.6L1148.7 828L1146.7 828L1144.7 826.8L1147.3 824.7L1151.5 822.6L1156.6 820.5L1160.3 817.9L1163.2 815.8ZM932.8 581.6L935.8 582.1L940.6 582.3L937.3 579.8L936.7 577.6L939.4 575.6L943.1 573.6L948.6 571.8L945.2 571.4L938.7 572.7L934.8 574.4L933.9 577.3L932.6 579.8ZM876.6 567.6L880.7 570.6L884.6 571.9L889.1 569.9L895.3 566.8L886.9 566.1L880 566.8ZM977.3 568.3L984.9 569.5L989.3 568.3L979.3 565.4L975.6 566.1ZM1037.1 573.9L1045.3 575.1L1055 574.7L1047.1 573.1L1039.5 573.1ZM1102.3 580.7L1105.8 581.6L1104.3 580.7ZM877.8 641.2L880.2 641.2L880.5 644.3L878.4 645.4L878.2 643.3ZM878.3 638L879.7 636.9L880 639.7L878.8 640.1ZM885.4 647.5L891 646.9L890.5 650.3L888.3 649.7L885.8 648.4ZM905.4 652.9L910.5 653.3L910 653.9L905.6 653.5ZM921.2 653.9L925 652.6L924.1 654.1L922 654.8ZM624.1 607.1L628.9 605.5L627.7 607.1L623.7 608.5ZM653.6 620.6L657.4 621.7L658.2 625.4L656.5 625.4L654.5 623.5ZM651.2 614.1L653.1 614.1L651.4 617.8L650.4 616.5ZM573.1 685.5L574.7 686.4L573.2 688.1L572.8 686.8ZM764.1 837.8L769 838L768 839.8L764.9 839.2ZM977.5 833L980.2 833.5L978.9 834.5L977.4 834.3ZM964 701.8L966.1 701.8L965.6 702.4L964.2 702.2ZM1168.8 771.9L1171.2 773.6L1173.3 776.3L1172.3 776.3L1169.3 773.6ZM1159.5 743.2L1162.2 744.9L1165.5 746.9L1164.9 747.1L1160.4 744.7ZM1165.3 748.6L1167 749.6L1168.2 750.7L1165.9 749.9ZM1195.1 766.1L1197.5 766.3L1196.9 767.6L1194.8 767.4ZM1176.2 760.7L1177.1 761.8L1177.2 764L1176.5 762.9ZM569.7 682.6L570.5 683.2L569.9 683.4ZM667 896.5L679.1 896.9L690.7 897.2L699.1 897.1L698.1 895.8L686.9 893.3L674.2 891.3L665.6 889.5L669.6 888L668.9 886.4L672.2 886.3L676.3 885.1L678 883.2L684.8 882.7L687.6 882L690.7 882.3L695.9 881.5L697.9 880.1L701.4 880.8L708.1 881L714.6 881L718.4 882L722.1 881.8L729.1 882.3L730.5 880.1L732.3 879.3L736.9 880L738.8 879.3L745.1 878.9L749.8 879.8L751.9 879.3L758.5 879.3L762.8 879.8L764.4 878.4L767.8 877.6L767 872.2L768.2 869.5L769.4 866.7L771.3 864.9L773.5 863.5L775.7 862L779.2 861.6L778.6 863.5L776.8 865.8L775.6 867.7L774.3 870.4L777.2 873.1L780.7 875.8L783.4 879.3L785.1 881.8L783 884.3L780.1 886.9L788.5 888.2L801.6 889.7L812.8 890.4L818.2 889.5L822.1 887.5L828.6 885.1L832.9 882.7L840 879.8L845 878.4L848.8 876.7L852.7 875.8L856.8 875.5L863.5 873.7L870.3 874.4L877.1 874L884 873.7L890.8 874L897.4 874.6L904.6 873.1L911.7 872.2L915.4 873.7L918.8 871.9L926.4 870.1L934 868.6L941.9 866.7L945.3 868.6L950.4 869.5L954.3 870.1L958.3 870.4L960.6 871.3L962.2 873.1L966.3 873.1L971.6 871.3L975.3 870.1L983.6 868.2L990.9 867.9L998.5 867.3L1006.3 866.4L1012.7 867.3L1020.3 866.7L1026.5 867.7L1033.1 868.2L1041.1 867.3L1048.8 866.7L1055.9 866.7L1061.5 868L1067.9 868.6L1071.9 871L1077.2 872.2L1081 874.4L1086.4 875.3L1091 876.7L1084 879.3L1073.5 882.3L1065.9 886L1062.8 888.3L1051.6 891.3L1046.5 894L1051.5 895.5L1055.5 896.1L1060 896.5M597.5 614.3L599.7 613.7L597.6 614.9ZM591.5 616.1L594.5 615.1L592.1 616.3ZM584.4 617.6L587.5 616.9L584.8 618ZM576 618.6L579.9 618L576.4 619ZM1154.9 619.2L1156.1 618.8L1156.1 619.6ZM1141.3 616.3L1142.5 615.9L1142.5 616.7ZM610.6 601.7L613.2 601.5L611.7 602.5ZM612.6 595.4L615.7 595.8L612.8 596.3ZM690 729.3L691.3 729.8L690.6 730.8ZM538.7 757.5L541.1 758.4L539.6 758.6ZM583.4 766.1L584.5 766.3L584.1 766.9ZM560.9 822.2L562.1 822.4L562.1 823ZM802.8 843.3L806.2 844.1L806.1 844.9L803.3 843.9ZM794.2 856.4L795.8 856.6L795.2 857ZM970.4 771.4L971.1 771.9L970.5 772.5ZM966.3 773.4L967.2 773.8L966.6 774.4ZM1135.6 699.6L1136.2 700.1L1135.7 700.5ZM1113.3 632.7L1115.1 631L1115.2 631.9ZM1118.7 628.5L1118.7 626.4L1119.2 628.1ZM1119.4 622.3L1119.1 620.6L1119.7 622.1ZM1098.5 672.9L1099.2 671.4L1099 672.7ZM1079.9 746.2L1082.2 746.4L1083.8 746.6L1083.6 747.7L1081.1 747.5ZM1088.2 749L1091.5 750.1L1089.9 750.7L1088.1 749.6ZM1102.3 735.5L1104.5 735.8L1103.7 736.8L1102.2 736.4ZM1117.5 740.5L1118.6 741.5L1117.5 743.2ZM1149.3 734.3L1152.4 736.8L1153.2 739L1151.5 736.4ZM1156.2 740.2L1158.4 743L1157.1 742.6ZM879.6 720.8L880.4 721.2L879.8 721.9ZM832.8 668.2L835.3 668.7L834.2 669.3ZM818.5 696.4L819.6 696.7L819 697.1ZM817.9 648L819.2 648L818.6 648.4ZM852.7 597.9L853.9 597.9L853.4 599ZM861.2 601L862 601.5L861.4 602.3ZM867.7 644.1L869.4 643.7L868.8 644.8ZM719.2 671.9L720.5 671.7L720.5 675.3L719.2 675.7L720 673.6ZM746.9 705.8L748.4 705.6L748.4 707.1L746.9 707.1ZM918.4 566.1L928.3 566.8L935.6 565.7L928.8 564.5L921.2 565.2ZM754.6 588.3L757.4 588.3L757.8 586.6L755.4 587ZM757.2 622.7L761 623.7L761.2 624.2L758.5 623.7ZM755.4 629.1L758.7 629.8L757.9 630.6L755.6 630ZM735 641.8L738.4 640.9L738.3 641.4L734.9 642.2ZM731.1 574.4L738.4 574.7L740.9 573.1L739.1 571.9L733.3 572.6ZM708.8 573.1L714.7 573.4L719.5 571.8L715.7 571ZM726 585.5L730.5 585.9L732.6 584.3L729 583.7ZM741 574.7L744.2 574.7L744.6 573.7L741.9 573.9ZM788.4 584.3L792.1 584.4L792.1 583L789.4 583ZM943.4 632.7L946 629.6L949.1 628.5L952.6 628.9L953.4 632.1L950.4 633.8L949.3 634.2L951.9 636.5L953.9 637.3L954.5 640.1L956.1 643.3L958 645.4L958.9 649L955.8 650.3L953 649.7L950.2 648.6L949.6 646.5L949.8 642.2L947.4 639L945.2 636.9L944.4 634.8ZM708.8 629.1L714.2 626.4L717.5 624.8L720.8 626.6L721.1 629.1L717.8 629.6L714.8 628.9L711.2 629.4ZM711.7 639L714.3 639L716 634.8L719.7 631.2L717.2 631L713.9 633.8ZM720.8 630.6L725.8 630.6L727.4 633.1L723.2 636.5L721.8 636.5L721 634.2L722.2 632.1ZM719.1 639.5L723.5 639L727.5 637.3L727.3 637.1L723.1 637.8L720.2 638.6ZM726.7 636.3L731.3 636.3L733.1 634.8L731 634.8L727.7 635.4ZM923.8 729.8L926.1 728.1L928 728.3L928 731.9L926 734.7L924.2 734ZM687.3 591.6L690.6 592.5L695.3 590.7L695.7 588.8L690.6 589.7ZM688 600.2L692.5 600.2L699.5 597.3L702 596.9L697.2 598.2L693 597.9ZM702 621.3L705.3 621.3L706.6 616.1L705.2 614.5ZM1032.8 619.2L1035.4 618.2L1037.5 614.1L1036.6 610.7L1035.3 611.1L1035 615.1L1033.5 617.8ZM910.1 602.1L912.6 601.5L913 600.2L909.8 599.2L908.5 600.2ZM963.5 634.8L967.1 635.4L968 632.7L966.2 629.6L963.2 630.6ZM918.8 736L919.8 736.2L920.8 741.5L922.5 747.1L921.3 747.1L919.5 741.9ZM927.5 749.2L928.6 749.4L929.2 754.3L929.8 759.3L928.9 759L928.1 754.3ZM889.5 699.6L891 699.9L890.8 701.4L889.5 701.1ZM988.2 632.1L991.3 629.1L996.5 629.6L995.9 630.2L991.6 630L989.4 633.1Z" fill="none" stroke="#000" stroke-width="1.7" stroke-linejoin="round"/>
<path d="M1045.1 901L1050.1 899.7L1055.8 897.9L1061.9 895.8L1068.6 893.3L1075.5 890.6L1082.7 887.5L1089.8 884.3L1096.6 881L1102.8 877.6L1108.8 874L1114.5 870.4L1120 866.7L1125.5 863L1130.8 859.2L1136.1 855.3L1141.1 851.3L1146.1 847.3L1150.8 843.3L1155.4 839.2L1159.7 835.1L1163.7 831L1167.5 826.8L1171.2 822.6L1174.7 818.4L1178 814.1L1181.1 809.9L1183.9 805.6L1186.5 801.3L1188.9 797.1L1191.1 792.8L1193.1 788.5L1194.8 784.2L1196.3 780L1197.6 775.7L1198.7 771.4L1199.9 767.2L1200.9 762.9L1201.8 758.6L1202.6 754.3L1203.2 750.1L1203.7 745.8L1204.1 741.5L1204.5 737.2L1204.7 733L1204.8 728.7L1204.7 724.4L1204.5 720.2L1204.1 715.9L1203.7 711.6L1203.2 707.3L1202.6 703.1L1201.8 698.8L1200.9 694.5L1199.9 690.2L1198.7 686L1197.6 681.7L1196.3 677.4L1194.8 673.2L1193.1 668.9L1191.1 664.6L1188.9 660.3L1186.5 656.1L1183.9 651.8L1181.1 647.5L1178 643.3L1174.7 639L1171.2 634.8L1167.5 630.6L1163.7 626.4L1159.7 622.3L1155.4 618.2L1150.8 614.1L1146.1 610.1L1141.1 606.1L1136.1 602.1L1130.8 598.2L1125.5 594.4L1120 590.7L1114.5 587L1108.8 583.4L1102.8 579.8L1096.6 576.4L1089.8 573.1L1082.7 569.9L1075.5 566.8L1068.6 564.1L1061.9 561.6L1055.8 559.5L1050.1 557.7L1045.1 556.4L681.9 556.4L676.9 557.7L671.2 559.5L665.1 561.6L658.4 564.1L651.5 566.8L644.3 569.9L637.2 573.1L630.4 576.4L624.2 579.8L618.2 583.4L612.5 587L607 590.7L601.5 594.4L596.2 598.2L590.9 602.1L585.9 606.1L580.9 610.1L576.2 614.1L571.6 618.2L567.3 622.3L563.3 626.4L559.5 630.6L555.8 634.8L552.3 639L549 643.3L545.9 647.5L543.1 651.8L540.5 656.1L538.1 660.3L535.9 664.6L533.9 668.9L532.2 673.2L530.7 677.4L529.4 681.7L528.3 686L527.1 690.2L526.1 694.5L525.2 698.8L524.4 703.1L523.8 707.3L523.3 711.6L522.9 715.9L522.5 720.2L522.3 724.4L522.2 728.7L522.3 733L522.5 737.2L522.9 741.5L523.3 745.8L523.8 750.1L524.4 754.3L525.2 758.6L526.1 762.9L527.1 767.2L528.3 771.4L529.4 775.7L530.7 780L532.2 784.2L533.9 788.5L535.9 792.8L538.1 797.1L540.5 801.3L543.1 805.6L545.9 809.9L549 814.1L552.3 818.4L555.8 822.6L559.5 826.8L563.3 831L567.3 835.1L571.6 839.2L576.2 843.3L580.9 847.3L585.9 851.3L590.9 855.3L596.2 859.2L601.5 863L607 866.7L612.5 870.4L618.2 874L624.2 877.6L630.4 881L637.2 884.3L644.3 887.5L651.5 890.6L658.4 893.3L665.1 895.8L671.2 897.9L676.9 899.7L681.9 901Z" fill="none" stroke="#000" stroke-width="1.8"/>
<circle cx="678" cy="644.7" r="16.3" fill="none" stroke="#000" stroke-width="3.1"/>
<text x="679.3" y="657" text-anchor="middle" class="md">1</text>
<circle cx="754" cy="754.3" r="16.3" fill="none" stroke="#000" stroke-width="3.1"/>
<text x="755.3" y="766.6" text-anchor="middle" class="md">2</text>
<circle cx="908" cy="702.7" r="16.3" fill="none" stroke="#000" stroke-width="3.1"/>
<text x="909.3" y="715" text-anchor="middle" class="md">3</text>
<circle cx="908" cy="761.7" r="16.3" fill="none" stroke="#000" stroke-width="3.1"/>
<text x="909.3" y="774" text-anchor="middle" class="md">4</text>
<circle cx="1113.4" cy="784.5" r="16.3" fill="none" stroke="#000" stroke-width="3.1"/>
<text x="1114.7" y="796.8" text-anchor="middle" class="md">5</text>
<circle cx="1045.2" cy="733" r="16.3" fill="none" stroke="#000" stroke-width="3.1"/>
<text x="1046.5" y="745.3" text-anchor="middle" class="md">6</text>
<circle cx="1063.3" cy="660.9" r="16.3" fill="none" stroke="#000" stroke-width="3.1"/>
<text x="1064.6" y="673.2" text-anchor="middle" class="md">7</text>
<circle cx="1005.6" cy="672.3" r="16.3" fill="none" stroke="#000" stroke-width="3.1"/>
<text x="1006.9" y="684.6" text-anchor="middle" class="md">8</text>
<circle cx="933.3" cy="618.7" r="16.3" fill="none" stroke="#000" stroke-width="3.1"/>
<text x="934.6" y="631" text-anchor="middle" class="md">9</text>
</svg>
</body></html>
